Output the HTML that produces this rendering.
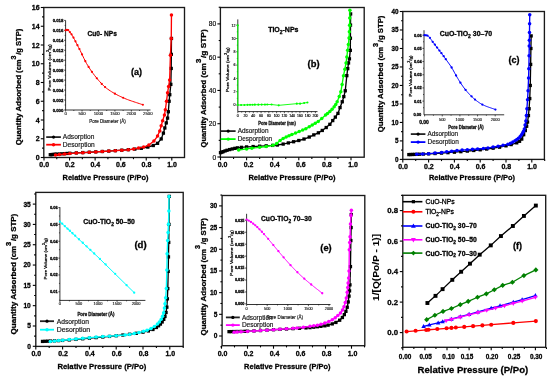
<!DOCTYPE html>
<html><head><meta charset="utf-8"><title>BET isotherms</title>
<style>html,body{margin:0;padding:0;background:#fff;width:550px;height:377px;overflow:hidden}svg{display:block;filter:blur(0.5px)}
text{font-family:"Liberation Sans",Arial,sans-serif}</style></head>
<body>
<svg width="550" height="377" viewBox="0 0 550 377" font-family="Liberation Sans, Arial, sans-serif">
<rect width="550" height="377" fill="#fff"/>
<rect x="43.8" y="7.5" width="140.7" height="150" fill="none" stroke="#1a1a1a" stroke-width="1.35"/>
<line x1="44" y1="157.5" x2="44" y2="160.5" stroke="#000" stroke-width="1.1"/>
<text x="44.2" y="166.8" font-size="7" text-anchor="middle" font-weight="bold" stroke="#000" stroke-width="0.28">0.0</text>
<line x1="69.56" y1="157.5" x2="69.56" y2="160.5" stroke="#000" stroke-width="1.1"/>
<text x="69.76" y="166.8" font-size="7" text-anchor="middle" font-weight="bold" stroke="#000" stroke-width="0.28">0.2</text>
<line x1="95.12" y1="157.5" x2="95.12" y2="160.5" stroke="#000" stroke-width="1.1"/>
<text x="95.32" y="166.8" font-size="7" text-anchor="middle" font-weight="bold" stroke="#000" stroke-width="0.28">0.4</text>
<line x1="120.68" y1="157.5" x2="120.68" y2="160.5" stroke="#000" stroke-width="1.1"/>
<text x="120.88" y="166.8" font-size="7" text-anchor="middle" font-weight="bold" stroke="#000" stroke-width="0.28">0.6</text>
<line x1="146.24" y1="157.5" x2="146.24" y2="160.5" stroke="#000" stroke-width="1.1"/>
<text x="146.44" y="166.8" font-size="7" text-anchor="middle" font-weight="bold" stroke="#000" stroke-width="0.28">0.8</text>
<line x1="171.8" y1="157.5" x2="171.8" y2="160.5" stroke="#000" stroke-width="1.1"/>
<text x="172" y="166.8" font-size="7" text-anchor="middle" font-weight="bold" stroke="#000" stroke-width="0.28">1.0</text>
<line x1="56.78" y1="157.5" x2="56.78" y2="159.2" stroke="#000" stroke-width="1.1"/>
<line x1="82.34" y1="157.5" x2="82.34" y2="159.2" stroke="#000" stroke-width="1.1"/>
<line x1="107.9" y1="157.5" x2="107.9" y2="159.2" stroke="#000" stroke-width="1.1"/>
<line x1="133.46" y1="157.5" x2="133.46" y2="159.2" stroke="#000" stroke-width="1.1"/>
<line x1="159.02" y1="157.5" x2="159.02" y2="159.2" stroke="#000" stroke-width="1.1"/>
<line x1="40.8" y1="157.5" x2="43.8" y2="157.5" stroke="#000" stroke-width="1.1"/>
<text x="39.6" y="160" font-size="7" text-anchor="end" font-weight="bold" stroke="#000" stroke-width="0.28">0</text>
<line x1="40.8" y1="138.75" x2="43.8" y2="138.75" stroke="#000" stroke-width="1.1"/>
<text x="39.6" y="141.25" font-size="7" text-anchor="end" font-weight="bold" stroke="#000" stroke-width="0.28">2</text>
<line x1="40.8" y1="120" x2="43.8" y2="120" stroke="#000" stroke-width="1.1"/>
<text x="39.6" y="122.5" font-size="7" text-anchor="end" font-weight="bold" stroke="#000" stroke-width="0.28">4</text>
<line x1="40.8" y1="101.25" x2="43.8" y2="101.25" stroke="#000" stroke-width="1.1"/>
<text x="39.6" y="103.75" font-size="7" text-anchor="end" font-weight="bold" stroke="#000" stroke-width="0.28">6</text>
<line x1="40.8" y1="82.5" x2="43.8" y2="82.5" stroke="#000" stroke-width="1.1"/>
<text x="39.6" y="85" font-size="7" text-anchor="end" font-weight="bold" stroke="#000" stroke-width="0.28">8</text>
<line x1="40.8" y1="63.75" x2="43.8" y2="63.75" stroke="#000" stroke-width="1.1"/>
<text x="39.6" y="66.25" font-size="7" text-anchor="end" font-weight="bold" stroke="#000" stroke-width="0.28">10</text>
<line x1="40.8" y1="45" x2="43.8" y2="45" stroke="#000" stroke-width="1.1"/>
<text x="39.6" y="47.5" font-size="7" text-anchor="end" font-weight="bold" stroke="#000" stroke-width="0.28">12</text>
<line x1="40.8" y1="26.25" x2="43.8" y2="26.25" stroke="#000" stroke-width="1.1"/>
<text x="39.6" y="28.75" font-size="7" text-anchor="end" font-weight="bold" stroke="#000" stroke-width="0.28">14</text>
<line x1="40.8" y1="7.5" x2="43.8" y2="7.5" stroke="#000" stroke-width="1.1"/>
<text x="39.6" y="10" font-size="7" text-anchor="end" font-weight="bold" stroke="#000" stroke-width="0.28">16</text>
<line x1="42.1" y1="148.12" x2="43.8" y2="148.12" stroke="#000" stroke-width="1.1"/>
<line x1="42.1" y1="129.38" x2="43.8" y2="129.38" stroke="#000" stroke-width="1.1"/>
<line x1="42.1" y1="110.62" x2="43.8" y2="110.62" stroke="#000" stroke-width="1.1"/>
<line x1="42.1" y1="91.88" x2="43.8" y2="91.88" stroke="#000" stroke-width="1.1"/>
<line x1="42.1" y1="73.12" x2="43.8" y2="73.12" stroke="#000" stroke-width="1.1"/>
<line x1="42.1" y1="54.38" x2="43.8" y2="54.38" stroke="#000" stroke-width="1.1"/>
<line x1="42.1" y1="35.62" x2="43.8" y2="35.62" stroke="#000" stroke-width="1.1"/>
<line x1="42.1" y1="16.88" x2="43.8" y2="16.88" stroke="#000" stroke-width="1.1"/>
<text x="21.4" y="110.1" font-size="7.4" text-anchor="middle" font-weight="bold" stroke="#000" stroke-width="0.28" transform="rotate(-90 21.4 110.1)" textLength="70.4" lengthAdjust="spacingAndGlyphs">Quantity Adsorbed</text>
<text x="21.4" y="50.85" font-size="7.4" text-anchor="middle" font-weight="bold" stroke="#000" stroke-width="0.28" transform="rotate(-90 21.4 50.85)" textLength="44.1" lengthAdjust="spacingAndGlyphs">(cm<tspan font-size="7.0" dy="-5.33">3</tspan><tspan dy="5.33" dx="0.6">/g STP)</tspan></text>
<text x="105.6" y="180.3" font-size="7.7" text-anchor="middle" font-weight="bold" stroke="#000" stroke-width="0.28" textLength="86" lengthAdjust="spacingAndGlyphs">Relative Pressure (P/Po)</text>
<line x1="65.6" y1="20.4" x2="65.6" y2="110" stroke="#000" stroke-width="0.8"/>
<line x1="65.6" y1="110" x2="150.5" y2="110" stroke="#000" stroke-width="0.8"/>
<line x1="64" y1="110" x2="65.6" y2="110" stroke="#000" stroke-width="0.64"/>
<text x="63.4" y="111.55" font-size="4.3" text-anchor="end" font-weight="bold" stroke="#000" stroke-width="0.28">0.000</text>
<line x1="64" y1="100.04" x2="65.6" y2="100.04" stroke="#000" stroke-width="0.64"/>
<text x="63.4" y="101.59" font-size="4.3" text-anchor="end" font-weight="bold" stroke="#000" stroke-width="0.28">0.002</text>
<line x1="64" y1="90.09" x2="65.6" y2="90.09" stroke="#000" stroke-width="0.64"/>
<text x="63.4" y="91.64" font-size="4.3" text-anchor="end" font-weight="bold" stroke="#000" stroke-width="0.28">0.004</text>
<line x1="64" y1="80.13" x2="65.6" y2="80.13" stroke="#000" stroke-width="0.64"/>
<text x="63.4" y="81.68" font-size="4.3" text-anchor="end" font-weight="bold" stroke="#000" stroke-width="0.28">0.006</text>
<line x1="64" y1="70.18" x2="65.6" y2="70.18" stroke="#000" stroke-width="0.64"/>
<text x="63.4" y="71.73" font-size="4.3" text-anchor="end" font-weight="bold" stroke="#000" stroke-width="0.28">0.008</text>
<line x1="64" y1="60.22" x2="65.6" y2="60.22" stroke="#000" stroke-width="0.64"/>
<text x="63.4" y="61.77" font-size="4.3" text-anchor="end" font-weight="bold" stroke="#000" stroke-width="0.28">0.010</text>
<line x1="64" y1="50.27" x2="65.6" y2="50.27" stroke="#000" stroke-width="0.64"/>
<text x="63.4" y="51.81" font-size="4.3" text-anchor="end" font-weight="bold" stroke="#000" stroke-width="0.28">0.012</text>
<line x1="64" y1="40.31" x2="65.6" y2="40.31" stroke="#000" stroke-width="0.64"/>
<text x="63.4" y="41.86" font-size="4.3" text-anchor="end" font-weight="bold" stroke="#000" stroke-width="0.28">0.014</text>
<line x1="64" y1="30.36" x2="65.6" y2="30.36" stroke="#000" stroke-width="0.64"/>
<text x="63.4" y="31.9" font-size="4.3" text-anchor="end" font-weight="bold" stroke="#000" stroke-width="0.28">0.016</text>
<line x1="64" y1="20.4" x2="65.6" y2="20.4" stroke="#000" stroke-width="0.64"/>
<text x="63.4" y="21.95" font-size="4.3" text-anchor="end" font-weight="bold" stroke="#000" stroke-width="0.28">0.018</text>
<line x1="64.64" y1="105.02" x2="65.6" y2="105.02" stroke="#000" stroke-width="0.64"/>
<line x1="64.64" y1="95.07" x2="65.6" y2="95.07" stroke="#000" stroke-width="0.64"/>
<line x1="64.64" y1="85.11" x2="65.6" y2="85.11" stroke="#000" stroke-width="0.64"/>
<line x1="64.64" y1="75.16" x2="65.6" y2="75.16" stroke="#000" stroke-width="0.64"/>
<line x1="64.64" y1="65.2" x2="65.6" y2="65.2" stroke="#000" stroke-width="0.64"/>
<line x1="64.64" y1="55.24" x2="65.6" y2="55.24" stroke="#000" stroke-width="0.64"/>
<line x1="64.64" y1="45.29" x2="65.6" y2="45.29" stroke="#000" stroke-width="0.64"/>
<line x1="64.64" y1="35.33" x2="65.6" y2="35.33" stroke="#000" stroke-width="0.64"/>
<line x1="64.64" y1="25.38" x2="65.6" y2="25.38" stroke="#000" stroke-width="0.64"/>
<line x1="65.6" y1="110" x2="65.6" y2="111.6" stroke="#000" stroke-width="0.64"/>
<text x="65.6" y="115.25" font-size="4.3" text-anchor="middle" stroke="#222" stroke-width="0.15" fill="#222">0</text>
<line x1="82.04" y1="110" x2="82.04" y2="111.6" stroke="#000" stroke-width="0.64"/>
<text x="82.04" y="115.25" font-size="4.3" text-anchor="middle" stroke="#222" stroke-width="0.15" fill="#222">500</text>
<line x1="98.48" y1="110" x2="98.48" y2="111.6" stroke="#000" stroke-width="0.64"/>
<text x="98.48" y="115.25" font-size="4.3" text-anchor="middle" stroke="#222" stroke-width="0.15" fill="#222">1000</text>
<line x1="114.92" y1="110" x2="114.92" y2="111.6" stroke="#000" stroke-width="0.64"/>
<text x="114.92" y="115.25" font-size="4.3" text-anchor="middle" stroke="#222" stroke-width="0.15" fill="#222">1500</text>
<line x1="131.36" y1="110" x2="131.36" y2="111.6" stroke="#000" stroke-width="0.64"/>
<text x="131.36" y="115.25" font-size="4.3" text-anchor="middle" stroke="#222" stroke-width="0.15" fill="#222">2000</text>
<line x1="147.8" y1="110" x2="147.8" y2="111.6" stroke="#000" stroke-width="0.64"/>
<text x="147.8" y="115.25" font-size="4.3" text-anchor="middle" stroke="#222" stroke-width="0.15" fill="#222">2500</text>
<line x1="73.82" y1="110" x2="73.82" y2="110.96" stroke="#000" stroke-width="0.64"/>
<line x1="90.26" y1="110" x2="90.26" y2="110.96" stroke="#000" stroke-width="0.64"/>
<line x1="106.7" y1="110" x2="106.7" y2="110.96" stroke="#000" stroke-width="0.64"/>
<line x1="123.14" y1="110" x2="123.14" y2="110.96" stroke="#000" stroke-width="0.64"/>
<line x1="139.58" y1="110" x2="139.58" y2="110.96" stroke="#000" stroke-width="0.64"/>
<text x="50.8" y="67.5" font-size="4.4" text-anchor="middle" transform="rotate(-90 50.8 67.5)" textLength="46.5" lengthAdjust="spacingAndGlyphs" stroke="#000" stroke-width="0.22">Pore Volume (cm<tspan font-size="3" dy="-1.5">3</tspan><tspan dy="1.5">/g)</tspan></text>
<text x="107.5" y="122.6" font-size="4.6" text-anchor="middle" stroke="#111" stroke-width="0.15" fill="#111" textLength="36.5" lengthAdjust="spacingAndGlyphs">Pore Diameter (Å)</text>
<polyline points="65.6,30.36 66.59,30.04 67.57,29.86 68.56,30.46 69.55,31.65 70.53,32.87 71.52,34.29 72.5,35.89 73.49,37.62 74.48,39.46 75.46,41.36 76.45,43.29 77.44,45.21 78.42,47.1 78.75,47.71 80.07,50.3 81.38,53.03 82.7,55.8 84.01,58.55 85.33,61.19 86.64,63.63 87.96,65.83 89.27,67.91 90.59,69.91 91.9,71.81 93.22,73.64 94.53,75.39 95.85,77.06 97.16,78.67 98.48,80.22 99.8,81.73 101.11,83.2 102.43,84.59 103.74,85.9 105.06,87.09 106.37,88.15 107.69,89.11 109,90.04 110.32,90.92 111.63,91.75 112.95,92.55 114.26,93.32 115.58,94.05 116.89,94.75 118.21,95.43 119.52,96.08 120.84,96.7 122.15,97.31 123.47,97.89 124.78,98.46 126.1,99 127.41,99.52 128.73,100.01 130.04,100.48 131.36,100.94 132.68,101.39 133.99,101.82 135.31,102.26 136.62,102.68 137.94,103.11 139.25,103.54 140.57,103.98 141.88,104.43" fill="none" stroke="#f00" stroke-width="1" stroke-linejoin="round"/>
<circle cx="65.6" cy="30.36" r="1.1" fill="#f00"/>
<circle cx="66.92" cy="29.95" r="1.1" fill="#f00"/>
<circle cx="68.23" cy="30.15" r="1.1" fill="#f00"/>
<circle cx="69.87" cy="32.04" r="1.1" fill="#f00"/>
<circle cx="71.52" cy="34.29" r="1.1" fill="#f00"/>
<circle cx="73.49" cy="37.62" r="1.1" fill="#f00"/>
<circle cx="75.46" cy="41.36" r="1.1" fill="#f00"/>
<circle cx="77.44" cy="45.21" r="1.1" fill="#f00"/>
<circle cx="79.41" cy="48.98" r="1.1" fill="#f00"/>
<circle cx="82.04" cy="54.41" r="1.1" fill="#f00"/>
<circle cx="85.33" cy="61.19" r="1.1" fill="#f00"/>
<circle cx="88.62" cy="66.88" r="1.1" fill="#f00"/>
<circle cx="91.9" cy="71.81" r="1.1" fill="#f00"/>
<circle cx="96.84" cy="78.27" r="1.1" fill="#f00"/>
<circle cx="101.77" cy="83.91" r="1.1" fill="#f00"/>
<circle cx="105.06" cy="87.09" r="1.1" fill="#f00"/>
<circle cx="114.92" cy="93.69" r="1.1" fill="#f00"/>
<circle cx="123.14" cy="97.75" r="1.1" fill="#f00"/>
<circle cx="142.87" cy="104.77" r="1.1" fill="#f00"/>
<text x="102.2" y="35.9" font-size="7.4" text-anchor="middle" font-weight="bold" stroke="#000" stroke-width="0.28" textLength="29.5" lengthAdjust="spacingAndGlyphs">Cu0- NPs</text>
<text x="136.5" y="74.8" font-size="9" text-anchor="middle" font-weight="bold" stroke="#000" stroke-width="0.28">(a)</text>
<line x1="46.2" y1="137.1" x2="60.9" y2="137.1" stroke="#222" stroke-width="1.8"/>
<circle cx="53.55" cy="137.1" r="1.6" fill="#000"/>
<line x1="46.2" y1="144.7" x2="60.9" y2="144.7" stroke="#f00" stroke-width="1.8"/>
<circle cx="53.55" cy="144.7" r="1.7" fill="#f00"/>
<text x="62.8" y="139.4" font-size="6.6" text-anchor="start" stroke="#111" stroke-width="0.15" fill="#111" textLength="31.5" lengthAdjust="spacingAndGlyphs">Adsorption</text>
<text x="62.8" y="147" font-size="6.6" text-anchor="start" stroke="#111" stroke-width="0.15" fill="#111" textLength="32" lengthAdjust="spacingAndGlyphs">Desorption</text>
<polyline points="50.3,154.69 51.6,154.59 52.9,154.5 54.2,154.4 55.5,154.3 56.8,154.2 59.4,154.01 62,153.82 64.6,153.63 67.2,153.45 69.8,153.28 76.3,152.91 82.8,152.57 89.3,152.23 95.8,151.88 102.3,151.49 108.8,151.09 115.3,150.67 121.8,150.19 128.3,149.68 134.8,149.09 141.3,148.31 147.8,147.08 153.26,145.5 157.55,143.34 161.19,138.94 163.4,133.12 164.83,127.97 166.26,122.91 167.56,118.12 168.34,111.75 169.12,101.25 169.77,94.69 170.81,84.38 171.2,68.44 171.33,54.38 171.46,38.44" fill="none" stroke="#000" stroke-width="1.35" stroke-linejoin="round"/>
<rect x="48.65" y="153.04" width="3.3" height="3.3" fill="#000"/>
<rect x="49.95" y="152.94" width="3.3" height="3.3" fill="#000"/>
<rect x="51.25" y="152.85" width="3.3" height="3.3" fill="#000"/>
<rect x="52.55" y="152.75" width="3.3" height="3.3" fill="#000"/>
<rect x="53.85" y="152.65" width="3.3" height="3.3" fill="#000"/>
<rect x="55.15" y="152.55" width="3.3" height="3.3" fill="#000"/>
<rect x="57.75" y="152.36" width="3.3" height="3.3" fill="#000"/>
<rect x="60.35" y="152.17" width="3.3" height="3.3" fill="#000"/>
<rect x="62.95" y="151.98" width="3.3" height="3.3" fill="#000"/>
<rect x="65.55" y="151.8" width="3.3" height="3.3" fill="#000"/>
<rect x="68.15" y="151.63" width="3.3" height="3.3" fill="#000"/>
<rect x="74.65" y="151.26" width="3.3" height="3.3" fill="#000"/>
<rect x="81.15" y="150.92" width="3.3" height="3.3" fill="#000"/>
<rect x="87.65" y="150.58" width="3.3" height="3.3" fill="#000"/>
<rect x="94.15" y="150.22" width="3.3" height="3.3" fill="#000"/>
<rect x="100.65" y="149.84" width="3.3" height="3.3" fill="#000"/>
<rect x="107.15" y="149.44" width="3.3" height="3.3" fill="#000"/>
<rect x="113.65" y="149.02" width="3.3" height="3.3" fill="#000"/>
<rect x="120.15" y="148.54" width="3.3" height="3.3" fill="#000"/>
<rect x="126.65" y="148.03" width="3.3" height="3.3" fill="#000"/>
<rect x="133.15" y="147.44" width="3.3" height="3.3" fill="#000"/>
<rect x="139.65" y="146.66" width="3.3" height="3.3" fill="#000"/>
<rect x="146.15" y="145.43" width="3.3" height="3.3" fill="#000"/>
<rect x="151.61" y="143.85" width="3.3" height="3.3" fill="#000"/>
<rect x="155.9" y="141.69" width="3.3" height="3.3" fill="#000"/>
<rect x="159.54" y="137.29" width="3.3" height="3.3" fill="#000"/>
<rect x="161.75" y="131.47" width="3.3" height="3.3" fill="#000"/>
<rect x="163.18" y="126.32" width="3.3" height="3.3" fill="#000"/>
<rect x="164.61" y="121.26" width="3.3" height="3.3" fill="#000"/>
<rect x="165.91" y="116.47" width="3.3" height="3.3" fill="#000"/>
<rect x="166.69" y="110.1" width="3.3" height="3.3" fill="#000"/>
<rect x="167.47" y="99.6" width="3.3" height="3.3" fill="#000"/>
<rect x="168.12" y="93.04" width="3.3" height="3.3" fill="#000"/>
<rect x="169.16" y="82.72" width="3.3" height="3.3" fill="#000"/>
<rect x="169.55" y="66.79" width="3.3" height="3.3" fill="#000"/>
<rect x="169.68" y="52.73" width="3.3" height="3.3" fill="#000"/>
<rect x="169.81" y="36.79" width="3.3" height="3.3" fill="#000"/>
<polyline points="55.5,154.97 59.4,154.57 64.6,154.03 69.8,153.56 76.3,153.09 82.8,152.68 89.3,152.3 95.8,151.91 102.3,151.5 108.8,151.08 115.3,150.66 121.8,150.27 128.3,149.84 133.5,149.1 138.57,148.12 143.64,147.09 148.84,145.03 153.91,141.09 157.55,136.03 159.76,130.88 161.19,125.81 162.62,120.66 164.44,115.03 165.35,109.69 166.52,101.25 167.56,92.81 168.6,86.44 169.64,79.97 170.42,55.31 171.26,38.44 171.46,15" fill="none" stroke="#f00" stroke-width="1.35" stroke-linejoin="round"/>
<circle cx="55.5" cy="154.97" r="1.75" fill="#f00"/>
<circle cx="59.4" cy="154.57" r="1.75" fill="#f00"/>
<circle cx="64.6" cy="154.03" r="1.75" fill="#f00"/>
<circle cx="69.8" cy="153.56" r="1.75" fill="#f00"/>
<circle cx="76.3" cy="153.09" r="1.75" fill="#f00"/>
<circle cx="82.8" cy="152.68" r="1.75" fill="#f00"/>
<circle cx="89.3" cy="152.3" r="1.75" fill="#f00"/>
<circle cx="95.8" cy="151.91" r="1.75" fill="#f00"/>
<circle cx="102.3" cy="151.5" r="1.75" fill="#f00"/>
<circle cx="108.8" cy="151.08" r="1.75" fill="#f00"/>
<circle cx="115.3" cy="150.66" r="1.75" fill="#f00"/>
<circle cx="121.8" cy="150.27" r="1.75" fill="#f00"/>
<circle cx="128.3" cy="149.84" r="1.75" fill="#f00"/>
<circle cx="133.5" cy="149.1" r="1.75" fill="#f00"/>
<circle cx="138.57" cy="148.12" r="1.75" fill="#f00"/>
<circle cx="143.64" cy="147.09" r="1.75" fill="#f00"/>
<circle cx="148.84" cy="145.03" r="1.75" fill="#f00"/>
<circle cx="153.91" cy="141.09" r="1.75" fill="#f00"/>
<circle cx="157.55" cy="136.03" r="1.75" fill="#f00"/>
<circle cx="159.76" cy="130.88" r="1.75" fill="#f00"/>
<circle cx="161.19" cy="125.81" r="1.75" fill="#f00"/>
<circle cx="162.62" cy="120.66" r="1.75" fill="#f00"/>
<circle cx="164.44" cy="115.03" r="1.75" fill="#f00"/>
<circle cx="165.35" cy="109.69" r="1.75" fill="#f00"/>
<circle cx="166.52" cy="101.25" r="1.75" fill="#f00"/>
<circle cx="167.56" cy="92.81" r="1.75" fill="#f00"/>
<circle cx="168.6" cy="86.44" r="1.75" fill="#f00"/>
<circle cx="169.64" cy="79.97" r="1.75" fill="#f00"/>
<circle cx="170.42" cy="55.31" r="1.75" fill="#f00"/>
<circle cx="171.26" cy="38.44" r="1.75" fill="#f00"/>
<circle cx="171.46" cy="15" r="1.75" fill="#f00"/>
<rect x="220.4" y="7.5" width="143.8" height="149.7" fill="none" stroke="#1a1a1a" stroke-width="1.35"/>
<line x1="220.5" y1="157.2" x2="220.5" y2="160.2" stroke="#000" stroke-width="1.1"/>
<text x="222.5" y="166.7" font-size="7" text-anchor="middle" font-weight="bold" stroke="#000" stroke-width="0.28">0.0</text>
<line x1="246.6" y1="157.2" x2="246.6" y2="160.2" stroke="#000" stroke-width="1.1"/>
<text x="248.6" y="166.7" font-size="7" text-anchor="middle" font-weight="bold" stroke="#000" stroke-width="0.28">0.2</text>
<line x1="272.7" y1="157.2" x2="272.7" y2="160.2" stroke="#000" stroke-width="1.1"/>
<text x="274.7" y="166.7" font-size="7" text-anchor="middle" font-weight="bold" stroke="#000" stroke-width="0.28">0.4</text>
<line x1="298.8" y1="157.2" x2="298.8" y2="160.2" stroke="#000" stroke-width="1.1"/>
<text x="300.8" y="166.7" font-size="7" text-anchor="middle" font-weight="bold" stroke="#000" stroke-width="0.28">0.6</text>
<line x1="324.9" y1="157.2" x2="324.9" y2="160.2" stroke="#000" stroke-width="1.1"/>
<text x="326.9" y="166.7" font-size="7" text-anchor="middle" font-weight="bold" stroke="#000" stroke-width="0.28">0.8</text>
<line x1="351" y1="157.2" x2="351" y2="160.2" stroke="#000" stroke-width="1.1"/>
<text x="353" y="166.7" font-size="7" text-anchor="middle" font-weight="bold" stroke="#000" stroke-width="0.28">1.0</text>
<line x1="233.55" y1="157.2" x2="233.55" y2="158.9" stroke="#000" stroke-width="1.1"/>
<line x1="259.65" y1="157.2" x2="259.65" y2="158.9" stroke="#000" stroke-width="1.1"/>
<line x1="285.75" y1="157.2" x2="285.75" y2="158.9" stroke="#000" stroke-width="1.1"/>
<line x1="311.85" y1="157.2" x2="311.85" y2="158.9" stroke="#000" stroke-width="1.1"/>
<line x1="337.95" y1="157.2" x2="337.95" y2="158.9" stroke="#000" stroke-width="1.1"/>
<line x1="217.4" y1="157" x2="220.4" y2="157" stroke="#000" stroke-width="1.1"/>
<text x="216.2" y="159.5" font-size="6.6" text-anchor="end" stroke="#000" stroke-width="0.15">0</text>
<line x1="217.4" y1="123.72" x2="220.4" y2="123.72" stroke="#000" stroke-width="1.1"/>
<text x="216.2" y="126.22" font-size="6.6" text-anchor="end" stroke="#000" stroke-width="0.15">20</text>
<line x1="217.4" y1="90.45" x2="220.4" y2="90.45" stroke="#000" stroke-width="1.1"/>
<text x="216.2" y="92.95" font-size="6.6" text-anchor="end" stroke="#000" stroke-width="0.15">40</text>
<line x1="217.4" y1="57.17" x2="220.4" y2="57.17" stroke="#000" stroke-width="1.1"/>
<text x="216.2" y="59.67" font-size="6.6" text-anchor="end" stroke="#000" stroke-width="0.15">60</text>
<line x1="217.4" y1="23.9" x2="220.4" y2="23.9" stroke="#000" stroke-width="1.1"/>
<text x="216.2" y="26.4" font-size="6.6" text-anchor="end" stroke="#000" stroke-width="0.15">80</text>
<line x1="218.7" y1="140.36" x2="220.4" y2="140.36" stroke="#000" stroke-width="1.1"/>
<line x1="218.7" y1="107.09" x2="220.4" y2="107.09" stroke="#000" stroke-width="1.1"/>
<line x1="218.7" y1="73.81" x2="220.4" y2="73.81" stroke="#000" stroke-width="1.1"/>
<line x1="218.7" y1="40.54" x2="220.4" y2="40.54" stroke="#000" stroke-width="1.1"/>
<line x1="218.7" y1="7.26" x2="220.4" y2="7.26" stroke="#000" stroke-width="1.1"/>
<text x="205.9" y="113.6" font-size="7.4" text-anchor="middle" font-weight="bold" stroke="#000" stroke-width="0.28" transform="rotate(-90 205.9 113.6)" textLength="67.6" lengthAdjust="spacingAndGlyphs">Quantity Adsorbed</text>
<text x="205.9" y="53.55" font-size="7.4" text-anchor="middle" font-weight="bold" stroke="#000" stroke-width="0.28" transform="rotate(-90 205.9 53.55)" textLength="48.5" lengthAdjust="spacingAndGlyphs">(cm<tspan font-size="7.0" dy="-5.33">3</tspan><tspan dy="5.33" dx="0.6">/g STP)</tspan></text>
<text x="292" y="180.2" font-size="7.7" text-anchor="middle" font-weight="bold" stroke="#000" stroke-width="0.28" textLength="87.2" lengthAdjust="spacingAndGlyphs">Relative Pressure (P/Po)</text>
<line x1="237.8" y1="19.4" x2="237.8" y2="111.6" stroke="#000" stroke-width="0.8"/>
<line x1="237.8" y1="111.6" x2="317.5" y2="111.6" stroke="#000" stroke-width="0.8"/>
<line x1="236.2" y1="105" x2="237.8" y2="105" stroke="#000" stroke-width="0.64"/>
<text x="235.6" y="106.3" font-size="3.6" text-anchor="end" stroke="#000" stroke-width="0.15">0</text>
<line x1="236.2" y1="91.7" x2="237.8" y2="91.7" stroke="#000" stroke-width="0.64"/>
<text x="235.6" y="93" font-size="3.6" text-anchor="end" stroke="#000" stroke-width="0.15">2</text>
<line x1="236.2" y1="78.4" x2="237.8" y2="78.4" stroke="#000" stroke-width="0.64"/>
<text x="235.6" y="79.7" font-size="3.6" text-anchor="end" stroke="#000" stroke-width="0.15">4</text>
<line x1="236.2" y1="65.1" x2="237.8" y2="65.1" stroke="#000" stroke-width="0.64"/>
<text x="235.6" y="66.4" font-size="3.6" text-anchor="end" stroke="#000" stroke-width="0.15">6</text>
<line x1="236.2" y1="51.8" x2="237.8" y2="51.8" stroke="#000" stroke-width="0.64"/>
<text x="235.6" y="53.1" font-size="3.6" text-anchor="end" stroke="#000" stroke-width="0.15">8</text>
<line x1="236.2" y1="38.5" x2="237.8" y2="38.5" stroke="#000" stroke-width="0.64"/>
<text x="235.6" y="39.8" font-size="3.6" text-anchor="end" stroke="#000" stroke-width="0.15">10</text>
<line x1="236.2" y1="25.2" x2="237.8" y2="25.2" stroke="#000" stroke-width="0.64"/>
<text x="235.6" y="26.5" font-size="3.6" text-anchor="end" stroke="#000" stroke-width="0.15">12</text>
<line x1="236.84" y1="98.35" x2="237.8" y2="98.35" stroke="#000" stroke-width="0.64"/>
<line x1="236.84" y1="85.05" x2="237.8" y2="85.05" stroke="#000" stroke-width="0.64"/>
<line x1="236.84" y1="71.75" x2="237.8" y2="71.75" stroke="#000" stroke-width="0.64"/>
<line x1="236.84" y1="58.45" x2="237.8" y2="58.45" stroke="#000" stroke-width="0.64"/>
<line x1="236.84" y1="45.15" x2="237.8" y2="45.15" stroke="#000" stroke-width="0.64"/>
<line x1="236.84" y1="31.85" x2="237.8" y2="31.85" stroke="#000" stroke-width="0.64"/>
<line x1="237.8" y1="111.6" x2="237.8" y2="113.2" stroke="#000" stroke-width="0.64"/>
<text x="237.8" y="117.16" font-size="3.5" text-anchor="middle" stroke="#000" stroke-width="0.15">0</text>
<line x1="245.56" y1="111.6" x2="245.56" y2="113.2" stroke="#000" stroke-width="0.64"/>
<text x="245.56" y="117.16" font-size="3.5" text-anchor="middle" stroke="#000" stroke-width="0.15">20</text>
<line x1="253.32" y1="111.6" x2="253.32" y2="113.2" stroke="#000" stroke-width="0.64"/>
<text x="253.32" y="117.16" font-size="3.5" text-anchor="middle" stroke="#000" stroke-width="0.15">40</text>
<line x1="261.08" y1="111.6" x2="261.08" y2="113.2" stroke="#000" stroke-width="0.64"/>
<text x="261.08" y="117.16" font-size="3.5" text-anchor="middle" stroke="#000" stroke-width="0.15">60</text>
<line x1="268.84" y1="111.6" x2="268.84" y2="113.2" stroke="#000" stroke-width="0.64"/>
<text x="268.84" y="117.16" font-size="3.5" text-anchor="middle" stroke="#000" stroke-width="0.15">80</text>
<line x1="276.6" y1="111.6" x2="276.6" y2="113.2" stroke="#000" stroke-width="0.64"/>
<text x="276.6" y="117.16" font-size="3.5" text-anchor="middle" stroke="#000" stroke-width="0.15">100</text>
<line x1="284.36" y1="111.6" x2="284.36" y2="113.2" stroke="#000" stroke-width="0.64"/>
<text x="284.36" y="117.16" font-size="3.5" text-anchor="middle" stroke="#000" stroke-width="0.15">120</text>
<line x1="292.12" y1="111.6" x2="292.12" y2="113.2" stroke="#000" stroke-width="0.64"/>
<text x="292.12" y="117.16" font-size="3.5" text-anchor="middle" stroke="#000" stroke-width="0.15">140</text>
<line x1="299.88" y1="111.6" x2="299.88" y2="113.2" stroke="#000" stroke-width="0.64"/>
<text x="299.88" y="117.16" font-size="3.5" text-anchor="middle" stroke="#000" stroke-width="0.15">160</text>
<line x1="307.64" y1="111.6" x2="307.64" y2="113.2" stroke="#000" stroke-width="0.64"/>
<text x="307.64" y="117.16" font-size="3.5" text-anchor="middle" stroke="#000" stroke-width="0.15">180</text>
<line x1="315.4" y1="111.6" x2="315.4" y2="113.2" stroke="#000" stroke-width="0.64"/>
<text x="315.4" y="117.16" font-size="3.5" text-anchor="middle" stroke="#000" stroke-width="0.15">200</text>
<line x1="241.68" y1="111.6" x2="241.68" y2="112.56" stroke="#000" stroke-width="0.64"/>
<line x1="249.44" y1="111.6" x2="249.44" y2="112.56" stroke="#000" stroke-width="0.64"/>
<line x1="257.2" y1="111.6" x2="257.2" y2="112.56" stroke="#000" stroke-width="0.64"/>
<line x1="264.96" y1="111.6" x2="264.96" y2="112.56" stroke="#000" stroke-width="0.64"/>
<line x1="272.72" y1="111.6" x2="272.72" y2="112.56" stroke="#000" stroke-width="0.64"/>
<line x1="280.48" y1="111.6" x2="280.48" y2="112.56" stroke="#000" stroke-width="0.64"/>
<line x1="288.24" y1="111.6" x2="288.24" y2="112.56" stroke="#000" stroke-width="0.64"/>
<line x1="296" y1="111.6" x2="296" y2="112.56" stroke="#000" stroke-width="0.64"/>
<line x1="303.76" y1="111.6" x2="303.76" y2="112.56" stroke="#000" stroke-width="0.64"/>
<line x1="311.52" y1="111.6" x2="311.52" y2="112.56" stroke="#000" stroke-width="0.64"/>
<text x="228.6" y="69.8" font-size="4.4" text-anchor="middle" transform="rotate(-90 228.6 69.8)" textLength="45" lengthAdjust="spacingAndGlyphs" stroke="#000" stroke-width="0.22">Pore Volume (cm<tspan font-size="3" dy="-1.5">3</tspan><tspan dy="1.5">/g)</tspan></text>
<text x="277" y="125.3" font-size="4.5" text-anchor="middle" font-weight="bold" stroke="#111" stroke-width="0.28" fill="#111" textLength="37.6" lengthAdjust="spacingAndGlyphs">Pore Diameter (nm)</text>
<polyline points="237.8,25.2 237.8,105" fill="none" stroke="#0f0" stroke-width="1" stroke-linejoin="round"/>
<polyline points="237.8,105 241.1,105 244.4,104.93 247.5,104.87 250.02,104.8 252.54,104.73 254.87,104.67 258.36,104.67 261.66,104.6 264.96,104.6 267.29,104.53 271.56,104.53 278.73,105.33 296.78,103.67 300.07,103.67 304.15,103 307.45,102.54" fill="none" stroke="#0f0" stroke-width="0.9" stroke-linejoin="round"/>
<circle cx="237.8" cy="105" r="1.05" fill="#0f0"/>
<circle cx="241.1" cy="105" r="1.05" fill="#0f0"/>
<circle cx="244.4" cy="104.93" r="1.05" fill="#0f0"/>
<circle cx="247.5" cy="104.87" r="1.05" fill="#0f0"/>
<circle cx="250.02" cy="104.8" r="1.05" fill="#0f0"/>
<circle cx="252.54" cy="104.73" r="1.05" fill="#0f0"/>
<circle cx="254.87" cy="104.67" r="1.05" fill="#0f0"/>
<circle cx="258.36" cy="104.67" r="1.05" fill="#0f0"/>
<circle cx="261.66" cy="104.6" r="1.05" fill="#0f0"/>
<circle cx="264.96" cy="104.6" r="1.05" fill="#0f0"/>
<circle cx="267.29" cy="104.53" r="1.05" fill="#0f0"/>
<circle cx="271.56" cy="104.53" r="1.05" fill="#0f0"/>
<circle cx="278.73" cy="105.33" r="1.05" fill="#0f0"/>
<circle cx="296.78" cy="103.67" r="1.05" fill="#0f0"/>
<circle cx="300.07" cy="103.67" r="1.05" fill="#0f0"/>
<circle cx="304.15" cy="103" r="1.05" fill="#0f0"/>
<circle cx="307.45" cy="102.54" r="1.05" fill="#0f0"/>
<circle cx="237.8" cy="25.2" r="1.05" fill="#0f0"/>
<text x="283.4" y="32" font-size="7.2" text-anchor="middle" font-weight="bold" stroke="#000" stroke-width="0.28" textLength="30.3" lengthAdjust="spacingAndGlyphs">TiO<tspan font-size="5" dy="1.5">2</tspan><tspan dy="-1.5">-NPs</tspan></text>
<text x="313.6" y="67.2" font-size="9.4" text-anchor="middle" font-weight="bold" stroke="#000" stroke-width="0.28">(b)</text>
<line x1="220.8" y1="131.1" x2="235.6" y2="131.1" stroke="#222" stroke-width="1.8"/>
<circle cx="228.2" cy="131.1" r="1.6" fill="#000"/>
<line x1="220.8" y1="139.1" x2="235.6" y2="139.1" stroke="#0f0" stroke-width="1.8"/>
<circle cx="228.2" cy="139.1" r="1.7" fill="#0f0"/>
<text x="237.7" y="133.4" font-size="6.6" text-anchor="start" stroke="#111" stroke-width="0.15" fill="#111" textLength="30.8" lengthAdjust="spacingAndGlyphs">Adsorption</text>
<text x="237.7" y="141.4" font-size="6.6" text-anchor="start" stroke="#111" stroke-width="0.15" fill="#111" textLength="34.4" lengthAdjust="spacingAndGlyphs">Desporption</text>
<polyline points="220.5,152.67 221.81,152.19 223.11,151.68 225.07,150.94 227.03,150.27 229.63,149.57 232.25,148.93 234.85,148.35 237.47,147.86 241.38,147.34 246.6,146.92 253.12,146.55 259.65,146.19 266.18,145.82 272.7,145.41 277.27,145.02 283.14,144.08 288.36,142.91 293.58,141.74 298.8,140.5 304.02,139.03 309.24,137.05 313.81,134.87 318.38,132.82 322.29,130.45 326.21,127.53 329.86,124.31 332.73,120.58 335.34,117.11 337.95,113.41 340.04,107.59 342.26,101.76 343.82,96.61 345.26,90.78 346.82,75.64 347.74,68.61 348.52,63 349.43,58.84 350.3,50.35 350.41,38.21 350.5,25.06 350.61,13.92" fill="none" stroke="#000" stroke-width="1.35" stroke-linejoin="round"/>
<rect x="218.85" y="151.02" width="3.3" height="3.3" fill="#000"/>
<rect x="220.16" y="150.54" width="3.3" height="3.3" fill="#000"/>
<rect x="221.46" y="150.03" width="3.3" height="3.3" fill="#000"/>
<rect x="223.42" y="149.29" width="3.3" height="3.3" fill="#000"/>
<rect x="225.38" y="148.62" width="3.3" height="3.3" fill="#000"/>
<rect x="227.98" y="147.92" width="3.3" height="3.3" fill="#000"/>
<rect x="230.59" y="147.28" width="3.3" height="3.3" fill="#000"/>
<rect x="233.2" y="146.7" width="3.3" height="3.3" fill="#000"/>
<rect x="235.81" y="146.21" width="3.3" height="3.3" fill="#000"/>
<rect x="239.73" y="145.69" width="3.3" height="3.3" fill="#000"/>
<rect x="244.95" y="145.27" width="3.3" height="3.3" fill="#000"/>
<rect x="251.47" y="144.9" width="3.3" height="3.3" fill="#000"/>
<rect x="258" y="144.54" width="3.3" height="3.3" fill="#000"/>
<rect x="264.53" y="144.17" width="3.3" height="3.3" fill="#000"/>
<rect x="271.05" y="143.76" width="3.3" height="3.3" fill="#000"/>
<rect x="275.62" y="143.37" width="3.3" height="3.3" fill="#000"/>
<rect x="281.49" y="142.43" width="3.3" height="3.3" fill="#000"/>
<rect x="286.71" y="141.26" width="3.3" height="3.3" fill="#000"/>
<rect x="291.93" y="140.09" width="3.3" height="3.3" fill="#000"/>
<rect x="297.15" y="138.85" width="3.3" height="3.3" fill="#000"/>
<rect x="302.37" y="137.38" width="3.3" height="3.3" fill="#000"/>
<rect x="307.59" y="135.4" width="3.3" height="3.3" fill="#000"/>
<rect x="312.16" y="133.22" width="3.3" height="3.3" fill="#000"/>
<rect x="316.73" y="131.17" width="3.3" height="3.3" fill="#000"/>
<rect x="320.64" y="128.8" width="3.3" height="3.3" fill="#000"/>
<rect x="324.56" y="125.88" width="3.3" height="3.3" fill="#000"/>
<rect x="328.21" y="122.66" width="3.3" height="3.3" fill="#000"/>
<rect x="331.08" y="118.93" width="3.3" height="3.3" fill="#000"/>
<rect x="333.69" y="115.46" width="3.3" height="3.3" fill="#000"/>
<rect x="336.3" y="111.76" width="3.3" height="3.3" fill="#000"/>
<rect x="338.39" y="105.94" width="3.3" height="3.3" fill="#000"/>
<rect x="340.61" y="100.11" width="3.3" height="3.3" fill="#000"/>
<rect x="342.17" y="94.96" width="3.3" height="3.3" fill="#000"/>
<rect x="343.61" y="89.13" width="3.3" height="3.3" fill="#000"/>
<rect x="345.17" y="73.99" width="3.3" height="3.3" fill="#000"/>
<rect x="346.09" y="66.96" width="3.3" height="3.3" fill="#000"/>
<rect x="346.87" y="61.35" width="3.3" height="3.3" fill="#000"/>
<rect x="347.78" y="57.19" width="3.3" height="3.3" fill="#000"/>
<rect x="348.65" y="48.7" width="3.3" height="3.3" fill="#000"/>
<rect x="348.76" y="36.56" width="3.3" height="3.3" fill="#000"/>
<rect x="348.85" y="23.41" width="3.3" height="3.3" fill="#000"/>
<rect x="348.96" y="12.27" width="3.3" height="3.3" fill="#000"/>
<polyline points="238.64,150.01 246.6,148.88 251.82,148.18 259.65,147.31 266.18,146.52 272.96,145.35 276.62,143.48 280.14,140.4 283.14,138.57 286.14,137.03 289.01,135.74 291.88,134.54 295.54,133.04 299.19,131.54 302.72,130.11 305.85,128.72 309.24,126.85 312.24,125.06 315.24,123.31 318.24,121.4 321.77,118.57 325.55,115.07 327.51,113.52 329.86,111.58 332.08,109.32 334.17,106.75 335.73,104.4 337.17,101.76 339.25,96.61 340.82,91.78 342.13,84.42 343.5,75.64 344.87,69.14 346.04,63 346.82,57.09 347.61,50.35 348.39,44.51 349.04,37.88 349.37,31.82 349.6,25.23 349.76,18.05 349.9,10.26" fill="none" stroke="#0f0" stroke-width="1.35" stroke-linejoin="round"/>
<circle cx="238.64" cy="150.01" r="1.75" fill="#0f0"/>
<circle cx="246.6" cy="148.88" r="1.75" fill="#0f0"/>
<circle cx="251.82" cy="148.18" r="1.75" fill="#0f0"/>
<circle cx="259.65" cy="147.31" r="1.75" fill="#0f0"/>
<circle cx="266.18" cy="146.52" r="1.75" fill="#0f0"/>
<circle cx="272.96" cy="145.35" r="1.75" fill="#0f0"/>
<circle cx="276.62" cy="143.48" r="1.75" fill="#0f0"/>
<circle cx="280.14" cy="140.4" r="1.75" fill="#0f0"/>
<circle cx="283.14" cy="138.57" r="1.75" fill="#0f0"/>
<circle cx="286.14" cy="137.03" r="1.75" fill="#0f0"/>
<circle cx="289.01" cy="135.74" r="1.75" fill="#0f0"/>
<circle cx="291.88" cy="134.54" r="1.75" fill="#0f0"/>
<circle cx="295.54" cy="133.04" r="1.75" fill="#0f0"/>
<circle cx="299.19" cy="131.54" r="1.75" fill="#0f0"/>
<circle cx="302.72" cy="130.11" r="1.75" fill="#0f0"/>
<circle cx="305.85" cy="128.72" r="1.75" fill="#0f0"/>
<circle cx="309.24" cy="126.85" r="1.75" fill="#0f0"/>
<circle cx="312.24" cy="125.06" r="1.75" fill="#0f0"/>
<circle cx="315.24" cy="123.31" r="1.75" fill="#0f0"/>
<circle cx="318.24" cy="121.4" r="1.75" fill="#0f0"/>
<circle cx="321.77" cy="118.57" r="1.75" fill="#0f0"/>
<circle cx="325.55" cy="115.07" r="1.75" fill="#0f0"/>
<circle cx="327.51" cy="113.52" r="1.75" fill="#0f0"/>
<circle cx="329.86" cy="111.58" r="1.75" fill="#0f0"/>
<circle cx="332.08" cy="109.32" r="1.75" fill="#0f0"/>
<circle cx="334.17" cy="106.75" r="1.75" fill="#0f0"/>
<circle cx="335.73" cy="104.4" r="1.75" fill="#0f0"/>
<circle cx="337.17" cy="101.76" r="1.75" fill="#0f0"/>
<circle cx="339.25" cy="96.61" r="1.75" fill="#0f0"/>
<circle cx="340.82" cy="91.78" r="1.75" fill="#0f0"/>
<circle cx="342.13" cy="84.42" r="1.75" fill="#0f0"/>
<circle cx="343.5" cy="75.64" r="1.75" fill="#0f0"/>
<circle cx="344.87" cy="69.14" r="1.75" fill="#0f0"/>
<circle cx="346.04" cy="63" r="1.75" fill="#0f0"/>
<circle cx="346.82" cy="57.09" r="1.75" fill="#0f0"/>
<circle cx="347.61" cy="50.35" r="1.75" fill="#0f0"/>
<circle cx="348.39" cy="44.51" r="1.75" fill="#0f0"/>
<circle cx="349.04" cy="37.88" r="1.75" fill="#0f0"/>
<circle cx="349.37" cy="31.82" r="1.75" fill="#0f0"/>
<circle cx="349.6" cy="25.23" r="1.75" fill="#0f0"/>
<circle cx="349.76" cy="18.05" r="1.75" fill="#0f0"/>
<circle cx="349.9" cy="10.26" r="1.75" fill="#0f0"/>
<rect x="402.8" y="11.5" width="141.6" height="147.9" fill="none" stroke="#1a1a1a" stroke-width="1.35"/>
<line x1="402.8" y1="159.4" x2="402.8" y2="162.4" stroke="#000" stroke-width="1.1"/>
<text x="403.1" y="169.2" font-size="7" text-anchor="middle" font-weight="bold" stroke="#000" stroke-width="0.28">0.0</text>
<line x1="428.6" y1="159.4" x2="428.6" y2="162.4" stroke="#000" stroke-width="1.1"/>
<text x="428.9" y="169.2" font-size="7" text-anchor="middle" font-weight="bold" stroke="#000" stroke-width="0.28">0.2</text>
<line x1="454.4" y1="159.4" x2="454.4" y2="162.4" stroke="#000" stroke-width="1.1"/>
<text x="454.7" y="169.2" font-size="7" text-anchor="middle" font-weight="bold" stroke="#000" stroke-width="0.28">0.4</text>
<line x1="480.2" y1="159.4" x2="480.2" y2="162.4" stroke="#000" stroke-width="1.1"/>
<text x="480.5" y="169.2" font-size="7" text-anchor="middle" font-weight="bold" stroke="#000" stroke-width="0.28">0.6</text>
<line x1="506" y1="159.4" x2="506" y2="162.4" stroke="#000" stroke-width="1.1"/>
<text x="506.3" y="169.2" font-size="7" text-anchor="middle" font-weight="bold" stroke="#000" stroke-width="0.28">0.8</text>
<line x1="531.8" y1="159.4" x2="531.8" y2="162.4" stroke="#000" stroke-width="1.1"/>
<text x="532.1" y="169.2" font-size="7" text-anchor="middle" font-weight="bold" stroke="#000" stroke-width="0.28">1.0</text>
<line x1="415.7" y1="159.4" x2="415.7" y2="161.1" stroke="#000" stroke-width="1.1"/>
<line x1="441.5" y1="159.4" x2="441.5" y2="161.1" stroke="#000" stroke-width="1.1"/>
<line x1="467.3" y1="159.4" x2="467.3" y2="161.1" stroke="#000" stroke-width="1.1"/>
<line x1="493.1" y1="159.4" x2="493.1" y2="161.1" stroke="#000" stroke-width="1.1"/>
<line x1="518.9" y1="159.4" x2="518.9" y2="161.1" stroke="#000" stroke-width="1.1"/>
<line x1="544.7" y1="159.4" x2="544.7" y2="161.1" stroke="#000" stroke-width="1.1"/>
<line x1="399.8" y1="159.4" x2="402.8" y2="159.4" stroke="#000" stroke-width="1.1"/>
<text x="398.4" y="161.7" font-size="6.3" text-anchor="end" font-weight="bold" stroke="#000" stroke-width="0.28">0</text>
<line x1="399.8" y1="140.91" x2="402.8" y2="140.91" stroke="#000" stroke-width="1.1"/>
<text x="398.4" y="143.21" font-size="6.3" text-anchor="end" font-weight="bold" stroke="#000" stroke-width="0.28">5</text>
<line x1="399.8" y1="122.43" x2="402.8" y2="122.43" stroke="#000" stroke-width="1.1"/>
<text x="398.4" y="124.73" font-size="6.3" text-anchor="end" font-weight="bold" stroke="#000" stroke-width="0.28">10</text>
<line x1="399.8" y1="103.94" x2="402.8" y2="103.94" stroke="#000" stroke-width="1.1"/>
<text x="398.4" y="106.24" font-size="6.3" text-anchor="end" font-weight="bold" stroke="#000" stroke-width="0.28">15</text>
<line x1="399.8" y1="85.45" x2="402.8" y2="85.45" stroke="#000" stroke-width="1.1"/>
<text x="398.4" y="87.75" font-size="6.3" text-anchor="end" font-weight="bold" stroke="#000" stroke-width="0.28">20</text>
<line x1="399.8" y1="66.96" x2="402.8" y2="66.96" stroke="#000" stroke-width="1.1"/>
<text x="398.4" y="69.26" font-size="6.3" text-anchor="end" font-weight="bold" stroke="#000" stroke-width="0.28">25</text>
<line x1="399.8" y1="48.48" x2="402.8" y2="48.48" stroke="#000" stroke-width="1.1"/>
<text x="398.4" y="50.78" font-size="6.3" text-anchor="end" font-weight="bold" stroke="#000" stroke-width="0.28">30</text>
<line x1="399.8" y1="29.99" x2="402.8" y2="29.99" stroke="#000" stroke-width="1.1"/>
<text x="398.4" y="32.29" font-size="6.3" text-anchor="end" font-weight="bold" stroke="#000" stroke-width="0.28">35</text>
<line x1="399.8" y1="11.5" x2="402.8" y2="11.5" stroke="#000" stroke-width="1.1"/>
<text x="398.4" y="13.8" font-size="6.3" text-anchor="end" font-weight="bold" stroke="#000" stroke-width="0.28">40</text>
<line x1="401.1" y1="150.16" x2="402.8" y2="150.16" stroke="#000" stroke-width="1.1"/>
<line x1="401.1" y1="131.67" x2="402.8" y2="131.67" stroke="#000" stroke-width="1.1"/>
<line x1="401.1" y1="113.18" x2="402.8" y2="113.18" stroke="#000" stroke-width="1.1"/>
<line x1="401.1" y1="94.69" x2="402.8" y2="94.69" stroke="#000" stroke-width="1.1"/>
<line x1="401.1" y1="76.21" x2="402.8" y2="76.21" stroke="#000" stroke-width="1.1"/>
<line x1="401.1" y1="57.72" x2="402.8" y2="57.72" stroke="#000" stroke-width="1.1"/>
<line x1="401.1" y1="39.23" x2="402.8" y2="39.23" stroke="#000" stroke-width="1.1"/>
<line x1="401.1" y1="20.74" x2="402.8" y2="20.74" stroke="#000" stroke-width="1.1"/>
<text x="383.5" y="97.45" font-size="7.4" text-anchor="middle" font-weight="bold" stroke="#000" stroke-width="0.28" transform="rotate(-90 383.5 97.45)" textLength="69.7" lengthAdjust="spacingAndGlyphs">Quantity Adsorbed</text>
<text x="383.5" y="38.1" font-size="7.4" text-anchor="middle" font-weight="bold" stroke="#000" stroke-width="0.28" transform="rotate(-90 383.5 38.1)" textLength="45" lengthAdjust="spacingAndGlyphs">(cm<tspan font-size="7.0" dy="-5.33">3</tspan><tspan dy="5.33" dx="0.6">/g STP)</tspan></text>
<text x="472" y="180.4" font-size="7.7" text-anchor="middle" font-weight="bold" stroke="#000" stroke-width="0.28" textLength="86" lengthAdjust="spacingAndGlyphs">Relative Pressure (P/Po)</text>
<line x1="424" y1="30.2" x2="424" y2="114.8" stroke="#000" stroke-width="0.8"/>
<line x1="424" y1="114.8" x2="504.2" y2="114.8" stroke="#000" stroke-width="0.8"/>
<line x1="422.4" y1="101.12" x2="424" y2="101.12" stroke="#000" stroke-width="0.64"/>
<text x="421.8" y="102.56" font-size="4" text-anchor="end" font-weight="bold" stroke="#000" stroke-width="0.28">0.01</text>
<line x1="422.4" y1="87.93" x2="424" y2="87.93" stroke="#000" stroke-width="0.64"/>
<text x="421.8" y="89.37" font-size="4" text-anchor="end" font-weight="bold" stroke="#000" stroke-width="0.28">0.02</text>
<line x1="422.4" y1="74.75" x2="424" y2="74.75" stroke="#000" stroke-width="0.64"/>
<text x="421.8" y="76.19" font-size="4" text-anchor="end" font-weight="bold" stroke="#000" stroke-width="0.28">0.03</text>
<line x1="422.4" y1="61.57" x2="424" y2="61.57" stroke="#000" stroke-width="0.64"/>
<text x="421.8" y="63.01" font-size="4" text-anchor="end" font-weight="bold" stroke="#000" stroke-width="0.28">0.04</text>
<line x1="422.4" y1="48.38" x2="424" y2="48.38" stroke="#000" stroke-width="0.64"/>
<text x="421.8" y="49.82" font-size="4" text-anchor="end" font-weight="bold" stroke="#000" stroke-width="0.28">0.05</text>
<line x1="422.4" y1="35.2" x2="424" y2="35.2" stroke="#000" stroke-width="0.64"/>
<text x="421.8" y="36.64" font-size="4" text-anchor="end" font-weight="bold" stroke="#000" stroke-width="0.28">0.06</text>
<line x1="423.04" y1="107.71" x2="424" y2="107.71" stroke="#000" stroke-width="0.64"/>
<line x1="423.04" y1="94.53" x2="424" y2="94.53" stroke="#000" stroke-width="0.64"/>
<line x1="423.04" y1="81.34" x2="424" y2="81.34" stroke="#000" stroke-width="0.64"/>
<line x1="423.04" y1="68.16" x2="424" y2="68.16" stroke="#000" stroke-width="0.64"/>
<line x1="423.04" y1="54.98" x2="424" y2="54.98" stroke="#000" stroke-width="0.64"/>
<line x1="423.04" y1="41.79" x2="424" y2="41.79" stroke="#000" stroke-width="0.64"/>
<line x1="442.25" y1="114.8" x2="442.25" y2="116.4" stroke="#000" stroke-width="0.64"/>
<text x="442.25" y="120.7" font-size="4" text-anchor="middle" stroke="#222" stroke-width="0.15" fill="#222">500</text>
<line x1="459.9" y1="114.8" x2="459.9" y2="116.4" stroke="#000" stroke-width="0.64"/>
<text x="459.9" y="120.7" font-size="4" text-anchor="middle" stroke="#222" stroke-width="0.15" fill="#222">1000</text>
<line x1="477.55" y1="114.8" x2="477.55" y2="116.4" stroke="#000" stroke-width="0.64"/>
<text x="477.55" y="120.7" font-size="4" text-anchor="middle" stroke="#222" stroke-width="0.15" fill="#222">1500</text>
<line x1="495.2" y1="114.8" x2="495.2" y2="116.4" stroke="#000" stroke-width="0.64"/>
<text x="495.2" y="120.7" font-size="4" text-anchor="middle" stroke="#222" stroke-width="0.15" fill="#222">2000</text>
<line x1="424.6" y1="114.8" x2="424.6" y2="116.4" stroke="#000" stroke-width="0.64"/>
<line x1="433.43" y1="114.8" x2="433.43" y2="115.76" stroke="#000" stroke-width="0.64"/>
<line x1="451.07" y1="114.8" x2="451.07" y2="115.76" stroke="#000" stroke-width="0.64"/>
<line x1="468.73" y1="114.8" x2="468.73" y2="115.76" stroke="#000" stroke-width="0.64"/>
<line x1="486.38" y1="114.8" x2="486.38" y2="115.76" stroke="#000" stroke-width="0.64"/>
<text x="421.2" y="115.8" font-size="4" text-anchor="end" font-weight="bold" stroke="#000" stroke-width="0.28">0.00</text>
<text x="424" y="124" font-size="5" text-anchor="middle" font-weight="bold" stroke="#000" stroke-width="0.28">0.00</text>
<text x="411.6" y="76" font-size="4.3" text-anchor="middle" transform="rotate(-90 411.6 76)" textLength="41" lengthAdjust="spacingAndGlyphs" stroke="#000" stroke-width="0.22">Pore Volume (cm<tspan font-size="3" dy="-1.5">3</tspan><tspan dy="1.5">/g)</tspan></text>
<text x="465.9" y="129.2" font-size="4.5" text-anchor="middle" font-weight="bold" stroke="#111" stroke-width="0.28" fill="#111" textLength="35.4" lengthAdjust="spacingAndGlyphs">Pore Diameter (Å)</text>
<polyline points="424.6,35.2 425.31,35.29 426.01,35.37 426.72,35.46 427.42,35.6 428.13,35.92 428.84,36.53 429.54,37.34 430.25,38.3 430.95,39.34 431.66,40.39 432.37,41.38 433.07,42.28 433.78,43.19 434.48,44.12 435.19,45.06 435.9,46.01 436.6,46.94 437.31,47.87 438.01,48.77 438.72,49.67 439.43,50.57 440.13,51.47 440.84,52.38 441.54,53.32 442.25,54.27 442.96,55.24 443.66,56.22 444.37,57.21 445.07,58.2 445.78,59.19 446.49,60.18 447.19,61.15 447.9,62.11 448.6,63.08 449.31,64.07 450.02,65.08 450.72,66.13 451.43,67.22 452.13,68.37 452.84,69.61 453.55,70.89 454.25,72.21 454.96,73.52 455.66,74.79 456.37,76.02 457.08,77.23 457.78,78.43 458.49,79.62 459.19,80.77 459.9,81.9 460.61,82.98 461.31,84.04 462.02,85.08 462.72,86.1 463.43,87.09 464.14,88.05 464.84,88.98 465.55,89.87 466.25,90.72 466.96,91.55 467.67,92.35 468.37,93.13 469.08,93.89 469.78,94.63 470.49,95.35 471.2,96.06 471.9,96.75 472.61,97.43 473.31,98.08 474.02,98.71 474.73,99.31 475.43,99.87 476.14,100.42 476.84,100.97 477.55,101.5 478.26,102.01 478.96,102.51 479.67,102.99 480.37,103.44 481.08,103.87 481.79,104.27 482.49,104.63 483.2,104.98 483.9,105.3 484.61,105.61 485.32,105.91 486.02,106.19 486.73,106.47 487.43,106.73 488.14,106.99 488.85,107.24 489.55,107.49 490.26,107.73 490.96,107.97 491.67,108.22 492.38,108.46 493.08,108.7 493.79,108.95 494.49,109.21 495.2,109.47 495.41,109.55" fill="none" stroke="#00f" stroke-width="1" stroke-linejoin="round"/>
<circle cx="424.6" cy="35.2" r="1.15" fill="#00f"/>
<circle cx="426.01" cy="35.37" r="1.15" fill="#00f"/>
<circle cx="427.42" cy="35.6" r="1.15" fill="#00f"/>
<circle cx="429.9" cy="37.81" r="1.15" fill="#00f"/>
<circle cx="432.68" cy="41.79" r="1.15" fill="#00f"/>
<circle cx="434.84" cy="44.59" r="1.15" fill="#00f"/>
<circle cx="437.1" cy="47.59" r="1.15" fill="#00f"/>
<circle cx="439.43" cy="50.57" r="1.15" fill="#00f"/>
<circle cx="441.4" cy="53.13" r="1.15" fill="#00f"/>
<circle cx="443.66" cy="56.22" r="1.15" fill="#00f"/>
<circle cx="445.78" cy="59.19" r="1.15" fill="#00f"/>
<circle cx="451.6" cy="67.5" r="1.15" fill="#00f"/>
<circle cx="456.02" cy="75.41" r="1.15" fill="#00f"/>
<circle cx="460.39" cy="82.66" r="1.15" fill="#00f"/>
<circle cx="465.58" cy="89.91" r="1.15" fill="#00f"/>
<circle cx="471.51" cy="96.37" r="1.15" fill="#00f"/>
<circle cx="475.01" cy="99.53" r="1.15" fill="#00f"/>
<circle cx="482.32" cy="104.54" r="1.15" fill="#00f"/>
<circle cx="495.41" cy="109.55" r="1.15" fill="#00f"/>
<text x="465.9" y="36.3" font-size="7" text-anchor="middle" font-weight="bold" stroke="#000" stroke-width="0.28" textLength="52.5" lengthAdjust="spacingAndGlyphs">CuO-TiO<tspan font-size="5" dy="1.6">2</tspan><tspan dy="-1.6"> 30–70</tspan></text>
<text x="514" y="63" font-size="9" text-anchor="middle" font-weight="bold" stroke="#000" stroke-width="0.28">(c)</text>
<line x1="410.8" y1="134.1" x2="425.4" y2="134.1" stroke="#222" stroke-width="1.8"/>
<circle cx="418.1" cy="134.1" r="1.6" fill="#000"/>
<line x1="410.8" y1="142.1" x2="425.4" y2="142.1" stroke="#00f" stroke-width="1.8"/>
<circle cx="418.1" cy="142.1" r="1.7" fill="#00f"/>
<text x="427.5" y="136.4" font-size="6.6" text-anchor="start" stroke="#111" stroke-width="0.15" fill="#111" textLength="30.6" lengthAdjust="spacingAndGlyphs">Adsorption</text>
<text x="427.5" y="144.4" font-size="6.6" text-anchor="start" stroke="#111" stroke-width="0.15" fill="#111" textLength="31.3" lengthAdjust="spacingAndGlyphs">Desorption</text>
<polyline points="408.86,154.59 410.54,154.53 412.48,154.46 414.41,154.4 416.99,154.31 419.57,154.22 423.44,154.07 428.6,153.85 435.05,153.52 441.5,153.12 447.95,152.67 454.4,152.19 460.85,151.67 467.3,151.1 473.75,150.47 480.2,149.79 486.65,149.04 493.1,148.2 499.55,147.2 506,145.83 511.16,144.57 516.71,142.85 519.54,141.29 521.74,139.06 523.67,134.7 525.35,130.56 526.64,126.25 527.54,122.06 528.45,115.59 529.09,108.74 529.74,98.56 530.25,85.45 530.64,64.4 530.9,48.48 531.15,35.9" fill="none" stroke="#000" stroke-width="1.35" stroke-linejoin="round"/>
<rect x="407.21" y="152.94" width="3.3" height="3.3" fill="#000"/>
<rect x="408.89" y="152.88" width="3.3" height="3.3" fill="#000"/>
<rect x="410.83" y="152.81" width="3.3" height="3.3" fill="#000"/>
<rect x="412.76" y="152.75" width="3.3" height="3.3" fill="#000"/>
<rect x="415.34" y="152.66" width="3.3" height="3.3" fill="#000"/>
<rect x="417.92" y="152.57" width="3.3" height="3.3" fill="#000"/>
<rect x="421.79" y="152.42" width="3.3" height="3.3" fill="#000"/>
<rect x="426.95" y="152.2" width="3.3" height="3.3" fill="#000"/>
<rect x="433.4" y="151.87" width="3.3" height="3.3" fill="#000"/>
<rect x="439.85" y="151.47" width="3.3" height="3.3" fill="#000"/>
<rect x="446.3" y="151.02" width="3.3" height="3.3" fill="#000"/>
<rect x="452.75" y="150.54" width="3.3" height="3.3" fill="#000"/>
<rect x="459.2" y="150.02" width="3.3" height="3.3" fill="#000"/>
<rect x="465.65" y="149.45" width="3.3" height="3.3" fill="#000"/>
<rect x="472.1" y="148.82" width="3.3" height="3.3" fill="#000"/>
<rect x="478.55" y="148.14" width="3.3" height="3.3" fill="#000"/>
<rect x="485" y="147.39" width="3.3" height="3.3" fill="#000"/>
<rect x="491.45" y="146.55" width="3.3" height="3.3" fill="#000"/>
<rect x="497.9" y="145.55" width="3.3" height="3.3" fill="#000"/>
<rect x="504.35" y="144.18" width="3.3" height="3.3" fill="#000"/>
<rect x="509.51" y="142.92" width="3.3" height="3.3" fill="#000"/>
<rect x="515.06" y="141.2" width="3.3" height="3.3" fill="#000"/>
<rect x="517.89" y="139.64" width="3.3" height="3.3" fill="#000"/>
<rect x="520.09" y="137.41" width="3.3" height="3.3" fill="#000"/>
<rect x="522.02" y="133.05" width="3.3" height="3.3" fill="#000"/>
<rect x="523.7" y="128.91" width="3.3" height="3.3" fill="#000"/>
<rect x="524.99" y="124.6" width="3.3" height="3.3" fill="#000"/>
<rect x="525.89" y="120.41" width="3.3" height="3.3" fill="#000"/>
<rect x="526.8" y="113.94" width="3.3" height="3.3" fill="#000"/>
<rect x="527.44" y="107.09" width="3.3" height="3.3" fill="#000"/>
<rect x="528.09" y="96.91" width="3.3" height="3.3" fill="#000"/>
<rect x="528.6" y="83.8" width="3.3" height="3.3" fill="#000"/>
<rect x="528.99" y="62.75" width="3.3" height="3.3" fill="#000"/>
<rect x="529.25" y="46.83" width="3.3" height="3.3" fill="#000"/>
<rect x="529.5" y="34.25" width="3.3" height="3.3" fill="#000"/>
<polyline points="416.73,154.33 422.54,154.03 428.6,153.67 435.05,153.1 441.63,152.41 446.66,151.85 451.69,151.24 456.98,150.61 462.14,150.08 467.3,149.68 472.46,149.34 477.62,149 483.42,148.49 487.94,147.92 493.1,147.09 498.13,146.2 503.03,145.34 507.93,144.2 510.51,143.23 512.84,142.1 515.03,140.84 516.84,139.58 518.51,138.14 520.19,136.4 521.48,134.87 522.64,133.11 523.54,131.27 524.32,129.01 525.09,124.9 525.87,120.95 526.38,115.59 526.9,108.74 527.54,99.87 528.06,90.65 528.57,78.06 528.83,68.84 529.09,55.87 529.22,45.89 529.35,40.34 529.48,32.58 529.61,23.7 529.74,14.83" fill="none" stroke="#00f" stroke-width="1.35" stroke-linejoin="round"/>
<circle cx="416.73" cy="154.33" r="1.75" fill="#00f"/>
<circle cx="422.54" cy="154.03" r="1.75" fill="#00f"/>
<circle cx="428.6" cy="153.67" r="1.75" fill="#00f"/>
<circle cx="435.05" cy="153.1" r="1.75" fill="#00f"/>
<circle cx="441.63" cy="152.41" r="1.75" fill="#00f"/>
<circle cx="446.66" cy="151.85" r="1.75" fill="#00f"/>
<circle cx="451.69" cy="151.24" r="1.75" fill="#00f"/>
<circle cx="456.98" cy="150.61" r="1.75" fill="#00f"/>
<circle cx="462.14" cy="150.08" r="1.75" fill="#00f"/>
<circle cx="467.3" cy="149.68" r="1.75" fill="#00f"/>
<circle cx="472.46" cy="149.34" r="1.75" fill="#00f"/>
<circle cx="477.62" cy="149" r="1.75" fill="#00f"/>
<circle cx="483.42" cy="148.49" r="1.75" fill="#00f"/>
<circle cx="487.94" cy="147.92" r="1.75" fill="#00f"/>
<circle cx="493.1" cy="147.09" r="1.75" fill="#00f"/>
<circle cx="498.13" cy="146.2" r="1.75" fill="#00f"/>
<circle cx="503.03" cy="145.34" r="1.75" fill="#00f"/>
<circle cx="507.93" cy="144.2" r="1.75" fill="#00f"/>
<circle cx="510.51" cy="143.23" r="1.75" fill="#00f"/>
<circle cx="512.84" cy="142.1" r="1.75" fill="#00f"/>
<circle cx="515.03" cy="140.84" r="1.75" fill="#00f"/>
<circle cx="516.84" cy="139.58" r="1.75" fill="#00f"/>
<circle cx="518.51" cy="138.14" r="1.75" fill="#00f"/>
<circle cx="520.19" cy="136.4" r="1.75" fill="#00f"/>
<circle cx="521.48" cy="134.87" r="1.75" fill="#00f"/>
<circle cx="522.64" cy="133.11" r="1.75" fill="#00f"/>
<circle cx="523.54" cy="131.27" r="1.75" fill="#00f"/>
<circle cx="524.32" cy="129.01" r="1.75" fill="#00f"/>
<circle cx="525.09" cy="124.9" r="1.75" fill="#00f"/>
<circle cx="525.87" cy="120.95" r="1.75" fill="#00f"/>
<circle cx="526.38" cy="115.59" r="1.75" fill="#00f"/>
<circle cx="526.9" cy="108.74" r="1.75" fill="#00f"/>
<circle cx="527.54" cy="99.87" r="1.75" fill="#00f"/>
<circle cx="528.06" cy="90.65" r="1.75" fill="#00f"/>
<circle cx="528.57" cy="78.06" r="1.75" fill="#00f"/>
<circle cx="528.83" cy="68.84" r="1.75" fill="#00f"/>
<circle cx="529.09" cy="55.87" r="1.75" fill="#00f"/>
<circle cx="529.22" cy="45.89" r="1.75" fill="#00f"/>
<circle cx="529.35" cy="40.34" r="1.75" fill="#00f"/>
<circle cx="529.48" cy="32.58" r="1.75" fill="#00f"/>
<circle cx="529.61" cy="23.7" r="1.75" fill="#00f"/>
<circle cx="529.74" cy="14.83" r="1.75" fill="#00f"/>
<rect x="35.8" y="192.4" width="147.4" height="154" fill="none" stroke="#1a1a1a" stroke-width="1.35"/>
<line x1="35.8" y1="346.4" x2="35.8" y2="349.4" stroke="#000" stroke-width="1.1"/>
<text x="36.3" y="355.6" font-size="7" text-anchor="middle" font-weight="bold" stroke="#000" stroke-width="0.28">0.0</text>
<line x1="62.6" y1="346.4" x2="62.6" y2="349.4" stroke="#000" stroke-width="1.1"/>
<text x="63.1" y="355.6" font-size="7" text-anchor="middle" font-weight="bold" stroke="#000" stroke-width="0.28">0.2</text>
<line x1="89.4" y1="346.4" x2="89.4" y2="349.4" stroke="#000" stroke-width="1.1"/>
<text x="89.9" y="355.6" font-size="7" text-anchor="middle" font-weight="bold" stroke="#000" stroke-width="0.28">0.4</text>
<line x1="116.2" y1="346.4" x2="116.2" y2="349.4" stroke="#000" stroke-width="1.1"/>
<text x="116.7" y="355.6" font-size="7" text-anchor="middle" font-weight="bold" stroke="#000" stroke-width="0.28">0.6</text>
<line x1="143" y1="346.4" x2="143" y2="349.4" stroke="#000" stroke-width="1.1"/>
<text x="143.5" y="355.6" font-size="7" text-anchor="middle" font-weight="bold" stroke="#000" stroke-width="0.28">0.8</text>
<line x1="169.8" y1="346.4" x2="169.8" y2="349.4" stroke="#000" stroke-width="1.1"/>
<text x="170.3" y="355.6" font-size="7" text-anchor="middle" font-weight="bold" stroke="#000" stroke-width="0.28">1.0</text>
<line x1="49.2" y1="346.4" x2="49.2" y2="348.1" stroke="#000" stroke-width="1.1"/>
<line x1="76" y1="346.4" x2="76" y2="348.1" stroke="#000" stroke-width="1.1"/>
<line x1="102.8" y1="346.4" x2="102.8" y2="348.1" stroke="#000" stroke-width="1.1"/>
<line x1="129.6" y1="346.4" x2="129.6" y2="348.1" stroke="#000" stroke-width="1.1"/>
<line x1="156.4" y1="346.4" x2="156.4" y2="348.1" stroke="#000" stroke-width="1.1"/>
<line x1="183.2" y1="346.4" x2="183.2" y2="348.1" stroke="#000" stroke-width="1.1"/>
<line x1="32.8" y1="346.3" x2="35.8" y2="346.3" stroke="#000" stroke-width="1.1"/>
<text x="30.8" y="348.7" font-size="6.6" text-anchor="end" font-weight="bold" stroke="#000" stroke-width="0.28">0</text>
<line x1="32.8" y1="325.99" x2="35.8" y2="325.99" stroke="#000" stroke-width="1.1"/>
<text x="30.8" y="328.39" font-size="6.6" text-anchor="end" font-weight="bold" stroke="#000" stroke-width="0.28">5</text>
<line x1="32.8" y1="305.67" x2="35.8" y2="305.67" stroke="#000" stroke-width="1.1"/>
<text x="30.8" y="308.07" font-size="6.6" text-anchor="end" font-weight="bold" stroke="#000" stroke-width="0.28">10</text>
<line x1="32.8" y1="285.36" x2="35.8" y2="285.36" stroke="#000" stroke-width="1.1"/>
<text x="30.8" y="287.76" font-size="6.6" text-anchor="end" font-weight="bold" stroke="#000" stroke-width="0.28">15</text>
<line x1="32.8" y1="265.04" x2="35.8" y2="265.04" stroke="#000" stroke-width="1.1"/>
<text x="30.8" y="267.44" font-size="6.6" text-anchor="end" font-weight="bold" stroke="#000" stroke-width="0.28">20</text>
<line x1="32.8" y1="244.73" x2="35.8" y2="244.73" stroke="#000" stroke-width="1.1"/>
<text x="30.8" y="247.13" font-size="6.6" text-anchor="end" font-weight="bold" stroke="#000" stroke-width="0.28">25</text>
<line x1="32.8" y1="224.41" x2="35.8" y2="224.41" stroke="#000" stroke-width="1.1"/>
<text x="30.8" y="226.81" font-size="6.6" text-anchor="end" font-weight="bold" stroke="#000" stroke-width="0.28">30</text>
<line x1="32.8" y1="204.1" x2="35.8" y2="204.1" stroke="#000" stroke-width="1.1"/>
<text x="30.8" y="206.5" font-size="6.6" text-anchor="end" font-weight="bold" stroke="#000" stroke-width="0.28">35</text>
<line x1="34.1" y1="336.14" x2="35.8" y2="336.14" stroke="#000" stroke-width="1.1"/>
<line x1="34.1" y1="315.83" x2="35.8" y2="315.83" stroke="#000" stroke-width="1.1"/>
<line x1="34.1" y1="295.51" x2="35.8" y2="295.51" stroke="#000" stroke-width="1.1"/>
<line x1="34.1" y1="275.2" x2="35.8" y2="275.2" stroke="#000" stroke-width="1.1"/>
<line x1="34.1" y1="254.89" x2="35.8" y2="254.89" stroke="#000" stroke-width="1.1"/>
<line x1="34.1" y1="234.57" x2="35.8" y2="234.57" stroke="#000" stroke-width="1.1"/>
<line x1="34.1" y1="214.26" x2="35.8" y2="214.26" stroke="#000" stroke-width="1.1"/>
<line x1="34.1" y1="193.94" x2="35.8" y2="193.94" stroke="#000" stroke-width="1.1"/>
<text x="15.9" y="298.3" font-size="7.4" text-anchor="middle" font-weight="bold" stroke="#000" stroke-width="0.28" transform="rotate(-90 15.9 298.3)" textLength="72.6" lengthAdjust="spacingAndGlyphs">Quantity Adsorbed</text>
<text x="15.9" y="236.9" font-size="7.4" text-anchor="middle" font-weight="bold" stroke="#000" stroke-width="0.28" transform="rotate(-90 15.9 236.9)" textLength="46.2" lengthAdjust="spacingAndGlyphs">(cm<tspan font-size="7.0" dy="-5.33">3</tspan><tspan dy="5.33" dx="0.6">/g STP)</tspan></text>
<text x="101.9" y="369" font-size="8" text-anchor="middle" font-weight="bold" stroke="#000" stroke-width="0.28" textLength="89" lengthAdjust="spacingAndGlyphs">Relative Pressure (P/Po)</text>
<line x1="59.9" y1="207.2" x2="59.9" y2="300.4" stroke="#000" stroke-width="0.8"/>
<line x1="59.9" y1="300.4" x2="145.4" y2="300.4" stroke="#000" stroke-width="0.8"/>
<line x1="58.3" y1="291.8" x2="59.9" y2="291.8" stroke="#000" stroke-width="0.64"/>
<text x="57.7" y="293.24" font-size="4" text-anchor="end" font-weight="bold" stroke="#000" stroke-width="0.28">0.01</text>
<line x1="58.3" y1="274.96" x2="59.9" y2="274.96" stroke="#000" stroke-width="0.64"/>
<text x="57.7" y="276.4" font-size="4" text-anchor="end" font-weight="bold" stroke="#000" stroke-width="0.28">0.02</text>
<line x1="58.3" y1="258.12" x2="59.9" y2="258.12" stroke="#000" stroke-width="0.64"/>
<text x="57.7" y="259.56" font-size="4" text-anchor="end" font-weight="bold" stroke="#000" stroke-width="0.28">0.03</text>
<line x1="58.3" y1="241.28" x2="59.9" y2="241.28" stroke="#000" stroke-width="0.64"/>
<text x="57.7" y="242.72" font-size="4" text-anchor="end" font-weight="bold" stroke="#000" stroke-width="0.28">0.04</text>
<line x1="58.3" y1="224.44" x2="59.9" y2="224.44" stroke="#000" stroke-width="0.64"/>
<text x="57.7" y="225.88" font-size="4" text-anchor="end" font-weight="bold" stroke="#000" stroke-width="0.28">0.05</text>
<line x1="58.3" y1="207.6" x2="59.9" y2="207.6" stroke="#000" stroke-width="0.64"/>
<text x="57.7" y="209.04" font-size="4" text-anchor="end" font-weight="bold" stroke="#000" stroke-width="0.28">0.06</text>
<line x1="58.94" y1="300.22" x2="59.9" y2="300.22" stroke="#000" stroke-width="0.64"/>
<line x1="58.94" y1="283.38" x2="59.9" y2="283.38" stroke="#000" stroke-width="0.64"/>
<line x1="58.94" y1="266.54" x2="59.9" y2="266.54" stroke="#000" stroke-width="0.64"/>
<line x1="58.94" y1="249.7" x2="59.9" y2="249.7" stroke="#000" stroke-width="0.64"/>
<line x1="58.94" y1="232.86" x2="59.9" y2="232.86" stroke="#000" stroke-width="0.64"/>
<line x1="58.94" y1="216.02" x2="59.9" y2="216.02" stroke="#000" stroke-width="0.64"/>
<line x1="59.9" y1="300.4" x2="59.9" y2="302" stroke="#000" stroke-width="0.64"/>
<text x="59.9" y="305.4" font-size="4" text-anchor="middle" stroke="#222" stroke-width="0.15" fill="#222">0</text>
<line x1="78.95" y1="300.4" x2="78.95" y2="302" stroke="#000" stroke-width="0.64"/>
<text x="78.95" y="305.4" font-size="4" text-anchor="middle" stroke="#222" stroke-width="0.15" fill="#222">500</text>
<line x1="98" y1="300.4" x2="98" y2="302" stroke="#000" stroke-width="0.64"/>
<text x="98" y="305.4" font-size="4" text-anchor="middle" stroke="#222" stroke-width="0.15" fill="#222">1000</text>
<line x1="117.05" y1="300.4" x2="117.05" y2="302" stroke="#000" stroke-width="0.64"/>
<text x="117.05" y="305.4" font-size="4" text-anchor="middle" stroke="#222" stroke-width="0.15" fill="#222">1500</text>
<line x1="136.1" y1="300.4" x2="136.1" y2="302" stroke="#000" stroke-width="0.64"/>
<text x="136.1" y="305.4" font-size="4" text-anchor="middle" stroke="#222" stroke-width="0.15" fill="#222">2000</text>
<line x1="69.42" y1="300.4" x2="69.42" y2="301.36" stroke="#000" stroke-width="0.64"/>
<line x1="88.47" y1="300.4" x2="88.47" y2="301.36" stroke="#000" stroke-width="0.64"/>
<line x1="107.52" y1="300.4" x2="107.52" y2="301.36" stroke="#000" stroke-width="0.64"/>
<line x1="126.57" y1="300.4" x2="126.57" y2="301.36" stroke="#000" stroke-width="0.64"/>
<text x="47" y="258.8" font-size="4.3" text-anchor="middle" transform="rotate(-90 47 258.8)" textLength="41.5" lengthAdjust="spacingAndGlyphs" stroke="#000" stroke-width="0.22">Pore Volume (cm<tspan font-size="3" dy="-1.5">3</tspan><tspan dy="1.5">/g)</tspan></text>
<text x="95.9" y="315.8" font-size="4.5" text-anchor="middle" font-weight="bold" stroke="#111" stroke-width="0.28" fill="#111" textLength="37" lengthAdjust="spacingAndGlyphs">Pore Diameter (Å)</text>
<polyline points="59.9,221.58 98,257.11 134.19,292.64" fill="none" stroke="#0ff" stroke-width="1" stroke-linejoin="round"/>
<circle cx="59.9" cy="221.58" r="1.15" fill="#0ff"/>
<circle cx="62.19" cy="223.71" r="1.15" fill="#0ff"/>
<circle cx="64.85" cy="226.18" r="1.15" fill="#0ff"/>
<circle cx="67.52" cy="228.65" r="1.15" fill="#0ff"/>
<circle cx="69.81" cy="230.77" r="1.15" fill="#0ff"/>
<circle cx="72.47" cy="233.24" r="1.15" fill="#0ff"/>
<circle cx="75.14" cy="235.7" r="1.15" fill="#0ff"/>
<circle cx="78.95" cy="239.23" r="1.15" fill="#0ff"/>
<circle cx="82.76" cy="242.76" r="1.15" fill="#0ff"/>
<circle cx="86.57" cy="246.31" r="1.15" fill="#0ff"/>
<circle cx="90.38" cy="249.89" r="1.15" fill="#0ff"/>
<circle cx="94.19" cy="253.48" r="1.15" fill="#0ff"/>
<circle cx="99.91" cy="258.94" r="1.15" fill="#0ff"/>
<circle cx="105.62" cy="264.47" r="1.15" fill="#0ff"/>
<circle cx="115.14" cy="273.82" r="1.15" fill="#0ff"/>
<circle cx="126.57" cy="285.13" r="1.15" fill="#0ff"/>
<circle cx="134.19" cy="292.64" r="1.15" fill="#0ff"/>
<text x="109" y="224.3" font-size="7" text-anchor="middle" font-weight="bold" stroke="#000" stroke-width="0.28" textLength="51.5" lengthAdjust="spacingAndGlyphs">CuO-TiO<tspan font-size="5" dy="1.6">2</tspan><tspan dy="-1.6"> 50–50</tspan></text>
<text x="140.5" y="247.5" font-size="9.6" text-anchor="middle" font-weight="bold" stroke="#000" stroke-width="0.28">(d)</text>
<line x1="40" y1="321.2" x2="54" y2="321.2" stroke="#222" stroke-width="1.8"/>
<circle cx="47" cy="321.2" r="1.6" fill="#000"/>
<line x1="40" y1="329.7" x2="54" y2="329.7" stroke="#0ff" stroke-width="1.8"/>
<circle cx="47" cy="329.7" r="1.7" fill="#0ff"/>
<text x="56.7" y="323.5" font-size="6.6" text-anchor="start" stroke="#111" stroke-width="0.15" fill="#111" textLength="32.2" lengthAdjust="spacingAndGlyphs">Adsorption</text>
<text x="56.7" y="332" font-size="6.6" text-anchor="start" stroke="#111" stroke-width="0.15" fill="#111" textLength="33.5" lengthAdjust="spacingAndGlyphs">Desorption</text>
<polyline points="42.5,341.42 45.18,341.29 47.86,341.17 50.54,341.04 54.56,340.85 58.58,340.64 62.6,340.41 69.3,339.93 76,339.37 82.7,338.77 89.4,338.17 96.1,337.6 102.8,337.01 109.5,336.4 116.2,335.74 122.9,335.03 129.6,334.25 136.3,333.3 143,332.15 148.36,330.93 152.92,329.48 156.4,327.47 158.54,325.78 160.42,324.06 162.16,321.96 163.77,319.36 164.98,316.48 166.05,312.5 166.85,307.17 167.39,298.83 167.79,288.61 168.19,271.39 168.46,256.92 168.73,242.39 169,224.41 169.26,196.38" fill="none" stroke="#000" stroke-width="1.35" stroke-linejoin="round"/>
<rect x="40.85" y="339.77" width="3.3" height="3.3" fill="#000"/>
<rect x="43.53" y="339.64" width="3.3" height="3.3" fill="#000"/>
<rect x="46.21" y="339.52" width="3.3" height="3.3" fill="#000"/>
<rect x="48.89" y="339.39" width="3.3" height="3.3" fill="#000"/>
<rect x="52.91" y="339.2" width="3.3" height="3.3" fill="#000"/>
<rect x="56.93" y="338.99" width="3.3" height="3.3" fill="#000"/>
<rect x="60.95" y="338.76" width="3.3" height="3.3" fill="#000"/>
<rect x="67.65" y="338.28" width="3.3" height="3.3" fill="#000"/>
<rect x="74.35" y="337.72" width="3.3" height="3.3" fill="#000"/>
<rect x="81.05" y="337.12" width="3.3" height="3.3" fill="#000"/>
<rect x="87.75" y="336.52" width="3.3" height="3.3" fill="#000"/>
<rect x="94.45" y="335.95" width="3.3" height="3.3" fill="#000"/>
<rect x="101.15" y="335.36" width="3.3" height="3.3" fill="#000"/>
<rect x="107.85" y="334.75" width="3.3" height="3.3" fill="#000"/>
<rect x="114.55" y="334.09" width="3.3" height="3.3" fill="#000"/>
<rect x="121.25" y="333.38" width="3.3" height="3.3" fill="#000"/>
<rect x="127.95" y="332.6" width="3.3" height="3.3" fill="#000"/>
<rect x="134.65" y="331.65" width="3.3" height="3.3" fill="#000"/>
<rect x="141.35" y="330.5" width="3.3" height="3.3" fill="#000"/>
<rect x="146.71" y="329.28" width="3.3" height="3.3" fill="#000"/>
<rect x="151.27" y="327.83" width="3.3" height="3.3" fill="#000"/>
<rect x="154.75" y="325.82" width="3.3" height="3.3" fill="#000"/>
<rect x="156.89" y="324.13" width="3.3" height="3.3" fill="#000"/>
<rect x="158.77" y="322.41" width="3.3" height="3.3" fill="#000"/>
<rect x="160.51" y="320.31" width="3.3" height="3.3" fill="#000"/>
<rect x="162.12" y="317.71" width="3.3" height="3.3" fill="#000"/>
<rect x="163.33" y="314.83" width="3.3" height="3.3" fill="#000"/>
<rect x="164.4" y="310.85" width="3.3" height="3.3" fill="#000"/>
<rect x="165.2" y="305.52" width="3.3" height="3.3" fill="#000"/>
<rect x="165.74" y="297.18" width="3.3" height="3.3" fill="#000"/>
<rect x="166.14" y="286.96" width="3.3" height="3.3" fill="#000"/>
<rect x="166.54" y="269.74" width="3.3" height="3.3" fill="#000"/>
<rect x="166.81" y="255.27" width="3.3" height="3.3" fill="#000"/>
<rect x="167.08" y="240.74" width="3.3" height="3.3" fill="#000"/>
<rect x="167.35" y="222.76" width="3.3" height="3.3" fill="#000"/>
<rect x="167.61" y="194.73" width="3.3" height="3.3" fill="#000"/>
<polyline points="50.27,341.42 54.56,341 58.58,340.6 62.6,340.21 69.3,339.59 76,338.99 82.7,338.32 89.4,337.66 96.1,337.1 102.8,336.61 109.5,336.14 116.2,335.7 125.04,335.01 129.6,334.41 134.29,333.58 138.98,332.55 143.54,331.31 147.02,330.22 151.04,328.59 154.39,326.53 157.47,323.95 159.35,322 161.22,319.28 162.56,316.36 163.64,312.78 164.44,307.98 164.98,303.64 165.65,297.77 166.32,288.61 166.85,269.92 167.12,253.67 167.66,240.54 168.06,232.54 168.46,224.36 168.86,211.01 169,196.38" fill="none" stroke="#0ff" stroke-width="1.35" stroke-linejoin="round"/>
<circle cx="50.27" cy="341.42" r="1.75" fill="#0ff"/>
<circle cx="54.56" cy="341" r="1.75" fill="#0ff"/>
<circle cx="58.58" cy="340.6" r="1.75" fill="#0ff"/>
<circle cx="62.6" cy="340.21" r="1.75" fill="#0ff"/>
<circle cx="69.3" cy="339.59" r="1.75" fill="#0ff"/>
<circle cx="76" cy="338.99" r="1.75" fill="#0ff"/>
<circle cx="82.7" cy="338.32" r="1.75" fill="#0ff"/>
<circle cx="89.4" cy="337.66" r="1.75" fill="#0ff"/>
<circle cx="96.1" cy="337.1" r="1.75" fill="#0ff"/>
<circle cx="102.8" cy="336.61" r="1.75" fill="#0ff"/>
<circle cx="109.5" cy="336.14" r="1.75" fill="#0ff"/>
<circle cx="116.2" cy="335.7" r="1.75" fill="#0ff"/>
<circle cx="125.04" cy="335.01" r="1.75" fill="#0ff"/>
<circle cx="129.6" cy="334.41" r="1.75" fill="#0ff"/>
<circle cx="134.29" cy="333.58" r="1.75" fill="#0ff"/>
<circle cx="138.98" cy="332.55" r="1.75" fill="#0ff"/>
<circle cx="143.54" cy="331.31" r="1.75" fill="#0ff"/>
<circle cx="147.02" cy="330.22" r="1.75" fill="#0ff"/>
<circle cx="151.04" cy="328.59" r="1.75" fill="#0ff"/>
<circle cx="154.39" cy="326.53" r="1.75" fill="#0ff"/>
<circle cx="157.47" cy="323.95" r="1.75" fill="#0ff"/>
<circle cx="159.35" cy="322" r="1.75" fill="#0ff"/>
<circle cx="161.22" cy="319.28" r="1.75" fill="#0ff"/>
<circle cx="162.56" cy="316.36" r="1.75" fill="#0ff"/>
<circle cx="163.64" cy="312.78" r="1.75" fill="#0ff"/>
<circle cx="164.44" cy="307.98" r="1.75" fill="#0ff"/>
<circle cx="164.98" cy="303.64" r="1.75" fill="#0ff"/>
<circle cx="165.65" cy="297.77" r="1.75" fill="#0ff"/>
<circle cx="166.32" cy="288.61" r="1.75" fill="#0ff"/>
<circle cx="166.85" cy="269.92" r="1.75" fill="#0ff"/>
<circle cx="167.12" cy="253.67" r="1.75" fill="#0ff"/>
<circle cx="167.66" cy="240.54" r="1.75" fill="#0ff"/>
<circle cx="168.06" cy="232.54" r="1.75" fill="#0ff"/>
<circle cx="168.46" cy="224.36" r="1.75" fill="#0ff"/>
<circle cx="168.86" cy="211.01" r="1.75" fill="#0ff"/>
<circle cx="169" cy="196.38" r="1.75" fill="#0ff"/>
<rect x="222.1" y="195.5" width="142.7" height="150.2" fill="none" stroke="#1a1a1a" stroke-width="1.35"/>
<line x1="221.5" y1="345.7" x2="221.5" y2="348.7" stroke="#000" stroke-width="1.1"/>
<text x="222.5" y="355.7" font-size="7" text-anchor="middle" font-weight="bold" stroke="#000" stroke-width="0.28">0.0</text>
<line x1="247.5" y1="345.7" x2="247.5" y2="348.7" stroke="#000" stroke-width="1.1"/>
<text x="248.5" y="355.7" font-size="7" text-anchor="middle" font-weight="bold" stroke="#000" stroke-width="0.28">0.2</text>
<line x1="273.5" y1="345.7" x2="273.5" y2="348.7" stroke="#000" stroke-width="1.1"/>
<text x="274.5" y="355.7" font-size="7" text-anchor="middle" font-weight="bold" stroke="#000" stroke-width="0.28">0.4</text>
<line x1="299.5" y1="345.7" x2="299.5" y2="348.7" stroke="#000" stroke-width="1.1"/>
<text x="300.5" y="355.7" font-size="7" text-anchor="middle" font-weight="bold" stroke="#000" stroke-width="0.28">0.6</text>
<line x1="325.5" y1="345.7" x2="325.5" y2="348.7" stroke="#000" stroke-width="1.1"/>
<text x="326.5" y="355.7" font-size="7" text-anchor="middle" font-weight="bold" stroke="#000" stroke-width="0.28">0.8</text>
<line x1="351.5" y1="345.7" x2="351.5" y2="348.7" stroke="#000" stroke-width="1.1"/>
<text x="352.5" y="355.7" font-size="7" text-anchor="middle" font-weight="bold" stroke="#000" stroke-width="0.28">1.0</text>
<line x1="234.5" y1="345.7" x2="234.5" y2="347.4" stroke="#000" stroke-width="1.1"/>
<line x1="260.5" y1="345.7" x2="260.5" y2="347.4" stroke="#000" stroke-width="1.1"/>
<line x1="286.5" y1="345.7" x2="286.5" y2="347.4" stroke="#000" stroke-width="1.1"/>
<line x1="312.5" y1="345.7" x2="312.5" y2="347.4" stroke="#000" stroke-width="1.1"/>
<line x1="338.5" y1="345.7" x2="338.5" y2="347.4" stroke="#000" stroke-width="1.1"/>
<line x1="364.5" y1="345.7" x2="364.5" y2="347.4" stroke="#000" stroke-width="1.1"/>
<line x1="219.1" y1="336" x2="222.1" y2="336" stroke="#000" stroke-width="1.1"/>
<text x="217.3" y="338.4" font-size="6.6" text-anchor="end" font-weight="bold" stroke="#000" stroke-width="0.28">0</text>
<line x1="219.1" y1="314.32" x2="222.1" y2="314.32" stroke="#000" stroke-width="1.1"/>
<text x="217.3" y="316.72" font-size="6.6" text-anchor="end" font-weight="bold" stroke="#000" stroke-width="0.28">5</text>
<line x1="219.1" y1="292.63" x2="222.1" y2="292.63" stroke="#000" stroke-width="1.1"/>
<text x="217.3" y="295.03" font-size="6.6" text-anchor="end" font-weight="bold" stroke="#000" stroke-width="0.28">10</text>
<line x1="219.1" y1="270.95" x2="222.1" y2="270.95" stroke="#000" stroke-width="1.1"/>
<text x="217.3" y="273.35" font-size="6.6" text-anchor="end" font-weight="bold" stroke="#000" stroke-width="0.28">15</text>
<line x1="219.1" y1="249.27" x2="222.1" y2="249.27" stroke="#000" stroke-width="1.1"/>
<text x="217.3" y="251.67" font-size="6.6" text-anchor="end" font-weight="bold" stroke="#000" stroke-width="0.28">20</text>
<line x1="219.1" y1="227.58" x2="222.1" y2="227.58" stroke="#000" stroke-width="1.1"/>
<text x="217.3" y="229.98" font-size="6.6" text-anchor="end" font-weight="bold" stroke="#000" stroke-width="0.28">25</text>
<line x1="219.1" y1="205.9" x2="222.1" y2="205.9" stroke="#000" stroke-width="1.1"/>
<text x="217.3" y="208.3" font-size="6.6" text-anchor="end" font-weight="bold" stroke="#000" stroke-width="0.28">30</text>
<line x1="220.4" y1="346.84" x2="222.1" y2="346.84" stroke="#000" stroke-width="1.1"/>
<line x1="220.4" y1="325.16" x2="222.1" y2="325.16" stroke="#000" stroke-width="1.1"/>
<line x1="220.4" y1="303.48" x2="222.1" y2="303.48" stroke="#000" stroke-width="1.1"/>
<line x1="220.4" y1="281.79" x2="222.1" y2="281.79" stroke="#000" stroke-width="1.1"/>
<line x1="220.4" y1="260.11" x2="222.1" y2="260.11" stroke="#000" stroke-width="1.1"/>
<line x1="220.4" y1="238.43" x2="222.1" y2="238.43" stroke="#000" stroke-width="1.1"/>
<line x1="220.4" y1="216.74" x2="222.1" y2="216.74" stroke="#000" stroke-width="1.1"/>
<line x1="220.4" y1="195.06" x2="222.1" y2="195.06" stroke="#000" stroke-width="1.1"/>
<text x="205.8" y="299.95" font-size="7.4" text-anchor="middle" font-weight="bold" stroke="#000" stroke-width="0.28" transform="rotate(-90 205.8 299.95)" textLength="70.9" lengthAdjust="spacingAndGlyphs">Quantity Adsorbed</text>
<text x="205.8" y="240.3" font-size="7.4" text-anchor="middle" font-weight="bold" stroke="#000" stroke-width="0.28" transform="rotate(-90 205.8 240.3)" textLength="44.4" lengthAdjust="spacingAndGlyphs">(cm<tspan font-size="7.0" dy="-5.33">3</tspan><tspan dy="5.33" dx="0.6">/g STP)</tspan></text>
<text x="287.3" y="369" font-size="8" text-anchor="middle" font-weight="bold" stroke="#000" stroke-width="0.28" textLength="86.4" lengthAdjust="spacingAndGlyphs">Relative Pressure (P/Po)</text>
<line x1="246.6" y1="213.8" x2="246.6" y2="304.5" stroke="#000" stroke-width="0.8"/>
<line x1="246.6" y1="304.5" x2="330.5" y2="304.5" stroke="#000" stroke-width="0.8"/>
<line x1="245" y1="303.9" x2="246.6" y2="303.9" stroke="#000" stroke-width="0.64"/>
<text x="244.4" y="305.27" font-size="3.8" text-anchor="end" font-weight="bold" stroke="#000" stroke-width="0.28">0.000</text>
<line x1="245" y1="291.96" x2="246.6" y2="291.96" stroke="#000" stroke-width="0.64"/>
<text x="244.4" y="293.33" font-size="3.8" text-anchor="end" font-weight="bold" stroke="#000" stroke-width="0.28">0.005</text>
<line x1="245" y1="280.01" x2="246.6" y2="280.01" stroke="#000" stroke-width="0.64"/>
<text x="244.4" y="281.38" font-size="3.8" text-anchor="end" font-weight="bold" stroke="#000" stroke-width="0.28">0.010</text>
<line x1="245" y1="268.07" x2="246.6" y2="268.07" stroke="#000" stroke-width="0.64"/>
<text x="244.4" y="269.44" font-size="3.8" text-anchor="end" font-weight="bold" stroke="#000" stroke-width="0.28">0.015</text>
<line x1="245" y1="256.13" x2="246.6" y2="256.13" stroke="#000" stroke-width="0.64"/>
<text x="244.4" y="257.5" font-size="3.8" text-anchor="end" font-weight="bold" stroke="#000" stroke-width="0.28">0.020</text>
<line x1="245" y1="244.19" x2="246.6" y2="244.19" stroke="#000" stroke-width="0.64"/>
<text x="244.4" y="245.55" font-size="3.8" text-anchor="end" font-weight="bold" stroke="#000" stroke-width="0.28">0.025</text>
<line x1="245" y1="232.24" x2="246.6" y2="232.24" stroke="#000" stroke-width="0.64"/>
<text x="244.4" y="233.61" font-size="3.8" text-anchor="end" font-weight="bold" stroke="#000" stroke-width="0.28">0.030</text>
<line x1="245" y1="220.3" x2="246.6" y2="220.3" stroke="#000" stroke-width="0.64"/>
<text x="244.4" y="221.67" font-size="3.8" text-anchor="end" font-weight="bold" stroke="#000" stroke-width="0.28">0.035</text>
<line x1="246.6" y1="304.5" x2="246.6" y2="306.1" stroke="#000" stroke-width="0.64"/>
<text x="246.6" y="309.63" font-size="3.8" text-anchor="middle" stroke="#222" stroke-width="0.15" fill="#222">0</text>
<line x1="267.2" y1="304.5" x2="267.2" y2="306.1" stroke="#000" stroke-width="0.64"/>
<text x="267.2" y="309.63" font-size="3.8" text-anchor="middle" stroke="#222" stroke-width="0.15" fill="#222">500</text>
<line x1="287.8" y1="304.5" x2="287.8" y2="306.1" stroke="#000" stroke-width="0.64"/>
<text x="287.8" y="309.63" font-size="3.8" text-anchor="middle" stroke="#222" stroke-width="0.15" fill="#222">1000</text>
<line x1="308.4" y1="304.5" x2="308.4" y2="306.1" stroke="#000" stroke-width="0.64"/>
<text x="308.4" y="309.63" font-size="3.8" text-anchor="middle" stroke="#222" stroke-width="0.15" fill="#222">1500</text>
<line x1="329" y1="304.5" x2="329" y2="306.1" stroke="#000" stroke-width="0.64"/>
<text x="329" y="309.63" font-size="3.8" text-anchor="middle" stroke="#222" stroke-width="0.15" fill="#222">2000</text>
<line x1="256.9" y1="304.5" x2="256.9" y2="305.46" stroke="#000" stroke-width="0.64"/>
<line x1="277.5" y1="304.5" x2="277.5" y2="305.46" stroke="#000" stroke-width="0.64"/>
<line x1="298.1" y1="304.5" x2="298.1" y2="305.46" stroke="#000" stroke-width="0.64"/>
<line x1="318.7" y1="304.5" x2="318.7" y2="305.46" stroke="#000" stroke-width="0.64"/>
<text x="232.6" y="253" font-size="4.3" text-anchor="middle" transform="rotate(-90 232.6 253)" textLength="45.8" lengthAdjust="spacingAndGlyphs" stroke="#000" stroke-width="0.22">Pore Volume (cm<tspan font-size="3" dy="-1.5">3</tspan><tspan dy="1.5">/g)</tspan></text>
<text x="284.8" y="318.8" font-size="4.7" text-anchor="middle" stroke="#111" stroke-width="0.15" fill="#111" textLength="36.4" lengthAdjust="spacingAndGlyphs">Pore Diameter (Å)</text>
<polyline points="246.6,219.61 247.42,219.97 248.25,220.38 249.07,220.83 249.9,221.32 250.72,221.85 251.54,222.41 252.37,223 253.19,223.63 254.02,224.28 254.84,224.97 255.66,225.68 256.49,226.42 257.31,227.19 258.14,227.97 258.96,228.78 259.78,229.61 260.61,230.46 261.43,231.32 262.26,232.2 263.08,233.1 263.9,234.01 264.73,234.94 265.55,235.87 266.38,236.82 267.2,237.77 268.02,238.74 268.85,239.71 269.67,240.69 270.5,241.67 271.32,242.66 272.14,243.65 272.97,244.64 273.79,245.64 274.62,246.63 275.44,247.63 276.26,248.63 277.09,249.62 277.91,250.62 278.74,251.61 279.56,252.59 280.38,253.58 281.21,254.55 282.03,255.53 282.86,256.5 283.68,257.46 284.5,258.41 285.33,259.36 286.15,260.3 286.98,261.23 287.8,262.16 288.62,263.07 289.45,263.98 290.27,264.88 291.1,265.77 291.92,266.65 292.74,267.52 293.57,268.38 294.39,269.23 295.22,270.07 296.04,270.9 296.86,271.72 297.69,272.53 298.51,273.33 299.34,274.12 300.16,274.9 300.98,275.67 301.81,276.43 302.63,277.18 303.46,277.92 304.28,278.65 305.1,279.38 305.93,280.09 306.75,280.8 307.58,281.5 308.4,282.2 309.22,282.88 310.05,283.56 310.87,284.24 311.7,284.9 312.52,285.57 313.34,286.23 314.17,286.88 314.99,287.53 315.82,288.18 316.64,288.83 317.46,289.48 318.29,290.12 319.11,290.77 319.94,291.42 320.76,292.07 321.58,292.72 322.24,293.25" fill="none" stroke="#f0f" stroke-width="1" stroke-linejoin="round"/>
<circle cx="246.6" cy="219.61" r="1.15" fill="#f0f"/>
<circle cx="248.66" cy="220.6" r="1.15" fill="#f0f"/>
<circle cx="250.93" cy="221.98" r="1.15" fill="#f0f"/>
<circle cx="253.19" cy="223.63" r="1.15" fill="#f0f"/>
<circle cx="255.29" cy="225.36" r="1.15" fill="#f0f"/>
<circle cx="257.31" cy="227.19" r="1.15" fill="#f0f"/>
<circle cx="259.5" cy="229.32" r="1.15" fill="#f0f"/>
<circle cx="261.84" cy="231.76" r="1.15" fill="#f0f"/>
<circle cx="263.99" cy="234.1" r="1.15" fill="#f0f"/>
<circle cx="268.11" cy="238.83" r="1.15" fill="#f0f"/>
<circle cx="273.3" cy="245.04" r="1.15" fill="#f0f"/>
<circle cx="278.41" cy="251.21" r="1.15" fill="#f0f"/>
<circle cx="283.6" cy="257.36" r="1.15" fill="#f0f"/>
<circle cx="290.52" cy="265.15" r="1.15" fill="#f0f"/>
<circle cx="297.4" cy="272.24" r="1.15" fill="#f0f"/>
<circle cx="304.28" cy="278.65" r="1.15" fill="#f0f"/>
<circle cx="311.2" cy="284.5" r="1.15" fill="#f0f"/>
<circle cx="322.24" cy="293.25" r="1.15" fill="#f0f"/>
<text x="286.3" y="221.1" font-size="7" text-anchor="middle" font-weight="bold" stroke="#000" stroke-width="0.28" textLength="50.7" lengthAdjust="spacingAndGlyphs">CuO-TiO<tspan font-size="5" dy="1.6">2</tspan><tspan dy="-1.6"> 70–30</tspan></text>
<text x="326" y="250.9" font-size="9.3" text-anchor="middle" font-weight="bold" stroke="#000" stroke-width="0.28">(e)</text>
<line x1="225.9" y1="317.4" x2="239.8" y2="317.4" stroke="#222" stroke-width="1.8"/>
<circle cx="232.85" cy="317.4" r="1.6" fill="#000"/>
<line x1="225.9" y1="325.1" x2="239.8" y2="325.1" stroke="#f0f" stroke-width="1.8"/>
<circle cx="232.85" cy="325.1" r="1.7" fill="#f0f"/>
<text x="241.9" y="319.7" font-size="6.6" text-anchor="start" stroke="#111" stroke-width="0.15" fill="#111" textLength="30.8" lengthAdjust="spacingAndGlyphs">Adsorption</text>
<text x="241.9" y="327.4" font-size="6.6" text-anchor="start" stroke="#111" stroke-width="0.15" fill="#111" textLength="31.5" lengthAdjust="spacingAndGlyphs">Desorption</text>
<polyline points="229.04,331.66 231.25,331.61 233.85,331.56 237.1,331.49 241,331.41 244.9,331.31 247.5,331.23 254,330.94 260.5,330.55 267,330.12 273.5,329.71 280,329.35 286.5,328.99 293,328.63 299.5,328.29 306,327.93 310.03,327.63 313.8,327.2 317.44,326.72 320.95,326.33 324.85,325.81 328.1,325.13 332.26,323.9 335.9,322.45 339.67,320.21 342.4,317.5 344.35,314.62 345.91,311.34 347.21,307.25 348.25,301.94 349.03,296.1 349.55,290.89 349.94,284.83 350.46,266.61 350.85,240.59 351.11,227.58 351.24,214.57" fill="none" stroke="#000" stroke-width="1.35" stroke-linejoin="round"/>
<rect x="227.39" y="330.01" width="3.3" height="3.3" fill="#000"/>
<rect x="229.6" y="329.96" width="3.3" height="3.3" fill="#000"/>
<rect x="232.2" y="329.91" width="3.3" height="3.3" fill="#000"/>
<rect x="235.45" y="329.84" width="3.3" height="3.3" fill="#000"/>
<rect x="239.35" y="329.76" width="3.3" height="3.3" fill="#000"/>
<rect x="243.25" y="329.66" width="3.3" height="3.3" fill="#000"/>
<rect x="245.85" y="329.58" width="3.3" height="3.3" fill="#000"/>
<rect x="252.35" y="329.29" width="3.3" height="3.3" fill="#000"/>
<rect x="258.85" y="328.9" width="3.3" height="3.3" fill="#000"/>
<rect x="265.35" y="328.47" width="3.3" height="3.3" fill="#000"/>
<rect x="271.85" y="328.06" width="3.3" height="3.3" fill="#000"/>
<rect x="278.35" y="327.7" width="3.3" height="3.3" fill="#000"/>
<rect x="284.85" y="327.34" width="3.3" height="3.3" fill="#000"/>
<rect x="291.35" y="326.98" width="3.3" height="3.3" fill="#000"/>
<rect x="297.85" y="326.64" width="3.3" height="3.3" fill="#000"/>
<rect x="304.35" y="326.28" width="3.3" height="3.3" fill="#000"/>
<rect x="308.38" y="325.98" width="3.3" height="3.3" fill="#000"/>
<rect x="312.15" y="325.55" width="3.3" height="3.3" fill="#000"/>
<rect x="315.79" y="325.07" width="3.3" height="3.3" fill="#000"/>
<rect x="319.3" y="324.68" width="3.3" height="3.3" fill="#000"/>
<rect x="323.2" y="324.16" width="3.3" height="3.3" fill="#000"/>
<rect x="326.45" y="323.48" width="3.3" height="3.3" fill="#000"/>
<rect x="330.61" y="322.25" width="3.3" height="3.3" fill="#000"/>
<rect x="334.25" y="320.8" width="3.3" height="3.3" fill="#000"/>
<rect x="338.02" y="318.56" width="3.3" height="3.3" fill="#000"/>
<rect x="340.75" y="315.85" width="3.3" height="3.3" fill="#000"/>
<rect x="342.7" y="312.97" width="3.3" height="3.3" fill="#000"/>
<rect x="344.26" y="309.69" width="3.3" height="3.3" fill="#000"/>
<rect x="345.56" y="305.6" width="3.3" height="3.3" fill="#000"/>
<rect x="346.6" y="300.29" width="3.3" height="3.3" fill="#000"/>
<rect x="347.38" y="294.45" width="3.3" height="3.3" fill="#000"/>
<rect x="347.9" y="289.24" width="3.3" height="3.3" fill="#000"/>
<rect x="348.29" y="283.18" width="3.3" height="3.3" fill="#000"/>
<rect x="348.81" y="264.96" width="3.3" height="3.3" fill="#000"/>
<rect x="349.2" y="238.94" width="3.3" height="3.3" fill="#000"/>
<rect x="349.46" y="225.93" width="3.3" height="3.3" fill="#000"/>
<rect x="349.59" y="212.92" width="3.3" height="3.3" fill="#000"/>
<polyline points="234.11,332.31 237.1,332.12 241,331.87 247.5,331.45 254,331.02 260.5,330.6 267,330.17 273.5,329.73 280,329.28 286.5,328.82 293,328.34 297.03,327.98 303.4,327.24 310.03,326.33 313.8,325.81 317.44,325.2 320.95,324.29 324.85,322.99 328.75,321.51 332.26,319.82 335.25,317.84 337.85,315.62 340.45,312.96 342.53,309.98 343.96,306.77 345.26,302.61 346.3,298.02 347.21,292.37 347.73,287.53 348.12,283.09 348.64,278 349.03,270.95 349.29,249.7 349.68,242.38 350.07,236.69 350.46,224.11 350.98,215.56 351.37,210.24" fill="none" stroke="#f0f" stroke-width="1.35" stroke-linejoin="round"/>
<circle cx="234.11" cy="332.31" r="1.75" fill="#f0f"/>
<circle cx="237.1" cy="332.12" r="1.75" fill="#f0f"/>
<circle cx="241" cy="331.87" r="1.75" fill="#f0f"/>
<circle cx="247.5" cy="331.45" r="1.75" fill="#f0f"/>
<circle cx="254" cy="331.02" r="1.75" fill="#f0f"/>
<circle cx="260.5" cy="330.6" r="1.75" fill="#f0f"/>
<circle cx="267" cy="330.17" r="1.75" fill="#f0f"/>
<circle cx="273.5" cy="329.73" r="1.75" fill="#f0f"/>
<circle cx="280" cy="329.28" r="1.75" fill="#f0f"/>
<circle cx="286.5" cy="328.82" r="1.75" fill="#f0f"/>
<circle cx="293" cy="328.34" r="1.75" fill="#f0f"/>
<circle cx="297.03" cy="327.98" r="1.75" fill="#f0f"/>
<circle cx="303.4" cy="327.24" r="1.75" fill="#f0f"/>
<circle cx="310.03" cy="326.33" r="1.75" fill="#f0f"/>
<circle cx="313.8" cy="325.81" r="1.75" fill="#f0f"/>
<circle cx="317.44" cy="325.2" r="1.75" fill="#f0f"/>
<circle cx="320.95" cy="324.29" r="1.75" fill="#f0f"/>
<circle cx="324.85" cy="322.99" r="1.75" fill="#f0f"/>
<circle cx="328.75" cy="321.51" r="1.75" fill="#f0f"/>
<circle cx="332.26" cy="319.82" r="1.75" fill="#f0f"/>
<circle cx="335.25" cy="317.84" r="1.75" fill="#f0f"/>
<circle cx="337.85" cy="315.62" r="1.75" fill="#f0f"/>
<circle cx="340.45" cy="312.96" r="1.75" fill="#f0f"/>
<circle cx="342.53" cy="309.98" r="1.75" fill="#f0f"/>
<circle cx="343.96" cy="306.77" r="1.75" fill="#f0f"/>
<circle cx="345.26" cy="302.61" r="1.75" fill="#f0f"/>
<circle cx="346.3" cy="298.02" r="1.75" fill="#f0f"/>
<circle cx="347.21" cy="292.37" r="1.75" fill="#f0f"/>
<circle cx="347.73" cy="287.53" r="1.75" fill="#f0f"/>
<circle cx="348.12" cy="283.09" r="1.75" fill="#f0f"/>
<circle cx="348.64" cy="278" r="1.75" fill="#f0f"/>
<circle cx="349.03" cy="270.95" r="1.75" fill="#f0f"/>
<circle cx="349.29" cy="249.7" r="1.75" fill="#f0f"/>
<circle cx="349.68" cy="242.38" r="1.75" fill="#f0f"/>
<circle cx="350.07" cy="236.69" r="1.75" fill="#f0f"/>
<circle cx="350.46" cy="224.11" r="1.75" fill="#f0f"/>
<circle cx="350.98" cy="215.56" r="1.75" fill="#f0f"/>
<circle cx="351.37" cy="210.24" r="1.75" fill="#f0f"/>
<rect x="402.8" y="195.3" width="142.9" height="152" fill="none" stroke="#1a1a1a" stroke-width="1.35"/>
<line x1="402.8" y1="347.3" x2="402.8" y2="350.3" stroke="#000" stroke-width="1.1"/>
<text x="405.1" y="358.7" font-size="6.4" text-anchor="middle" font-weight="bold" stroke="#000" stroke-width="0.28">0.00</text>
<line x1="424.9" y1="347.3" x2="424.9" y2="350.3" stroke="#000" stroke-width="1.1"/>
<text x="425.7" y="358.7" font-size="6.4" text-anchor="middle" font-weight="bold" stroke="#000" stroke-width="0.28">0.05</text>
<line x1="447" y1="347.3" x2="447" y2="350.3" stroke="#000" stroke-width="1.1"/>
<text x="448.6" y="358.7" font-size="6.4" text-anchor="middle" font-weight="bold" stroke="#000" stroke-width="0.28">0.10</text>
<line x1="469.1" y1="347.3" x2="469.1" y2="350.3" stroke="#000" stroke-width="1.1"/>
<text x="467" y="358.7" font-size="6.4" text-anchor="middle" font-weight="bold" stroke="#000" stroke-width="0.28">0.15</text>
<line x1="491.2" y1="347.3" x2="491.2" y2="350.3" stroke="#000" stroke-width="1.1"/>
<text x="492" y="358.7" font-size="6.4" text-anchor="middle" font-weight="bold" stroke="#000" stroke-width="0.28">0.20</text>
<line x1="513.3" y1="347.3" x2="513.3" y2="350.3" stroke="#000" stroke-width="1.1"/>
<text x="514.1" y="358.7" font-size="6.4" text-anchor="middle" font-weight="bold" stroke="#000" stroke-width="0.28">0.25</text>
<line x1="535.4" y1="347.3" x2="535.4" y2="350.3" stroke="#000" stroke-width="1.1"/>
<text x="536.2" y="358.7" font-size="6.4" text-anchor="middle" font-weight="bold" stroke="#000" stroke-width="0.28">0.30</text>
<line x1="413.85" y1="347.3" x2="413.85" y2="349" stroke="#000" stroke-width="1.1"/>
<line x1="435.95" y1="347.3" x2="435.95" y2="349" stroke="#000" stroke-width="1.1"/>
<line x1="458.05" y1="347.3" x2="458.05" y2="349" stroke="#000" stroke-width="1.1"/>
<line x1="480.15" y1="347.3" x2="480.15" y2="349" stroke="#000" stroke-width="1.1"/>
<line x1="502.25" y1="347.3" x2="502.25" y2="349" stroke="#000" stroke-width="1.1"/>
<line x1="524.35" y1="347.3" x2="524.35" y2="349" stroke="#000" stroke-width="1.1"/>
<line x1="546.45" y1="347.3" x2="546.45" y2="349" stroke="#000" stroke-width="1.1"/>
<line x1="399.8" y1="332.6" x2="402.8" y2="332.6" stroke="#000" stroke-width="1.1"/>
<text x="398" y="335.4" font-size="7.8" text-anchor="end" font-weight="bold" stroke="#000" stroke-width="0.28">0.0</text>
<line x1="399.8" y1="302.1" x2="402.8" y2="302.1" stroke="#000" stroke-width="1.1"/>
<text x="398" y="304.9" font-size="7.8" text-anchor="end" font-weight="bold" stroke="#000" stroke-width="0.28">0.2</text>
<line x1="399.8" y1="271.6" x2="402.8" y2="271.6" stroke="#000" stroke-width="1.1"/>
<text x="398" y="274.4" font-size="7.8" text-anchor="end" font-weight="bold" stroke="#000" stroke-width="0.28">0.4</text>
<line x1="399.8" y1="241.1" x2="402.8" y2="241.1" stroke="#000" stroke-width="1.1"/>
<text x="398" y="243.9" font-size="7.8" text-anchor="end" font-weight="bold" stroke="#000" stroke-width="0.28">0.6</text>
<line x1="399.8" y1="210.6" x2="402.8" y2="210.6" stroke="#000" stroke-width="1.1"/>
<text x="398" y="213.4" font-size="7.8" text-anchor="end" font-weight="bold" stroke="#000" stroke-width="0.28">0.8</text>
<line x1="401.1" y1="347.85" x2="402.8" y2="347.85" stroke="#000" stroke-width="1.1"/>
<line x1="401.1" y1="317.35" x2="402.8" y2="317.35" stroke="#000" stroke-width="1.1"/>
<line x1="401.1" y1="286.85" x2="402.8" y2="286.85" stroke="#000" stroke-width="1.1"/>
<line x1="401.1" y1="256.35" x2="402.8" y2="256.35" stroke="#000" stroke-width="1.1"/>
<line x1="401.1" y1="225.85" x2="402.8" y2="225.85" stroke="#000" stroke-width="1.1"/>
<line x1="401.1" y1="195.35" x2="402.8" y2="195.35" stroke="#000" stroke-width="1.1"/>
<text x="378.7" y="267.4" font-size="8.3" text-anchor="middle" font-weight="bold" transform="rotate(-90 378.7 267.4)" textLength="67" lengthAdjust="spacingAndGlyphs" stroke="#000" stroke-width="0.05">1/[Q(Po/P - 1)]</text>
<text x="472.9" y="372.6" font-size="9.5" text-anchor="middle" font-weight="bold" stroke="#000" stroke-width="0.28" textLength="110.6" lengthAdjust="spacingAndGlyphs">Relative Pressure (P/Po)</text>
<text x="517.5" y="248.7" font-size="9" text-anchor="middle" font-weight="bold" stroke="#000" stroke-width="0.28">(f)</text>
<polyline points="406.6,331.53 415.62,330.8 426.23,329.95 428.44,329.77 437.28,329.05 446.56,328.3 451.42,327.91 455.84,327.56 464.24,326.88 473.08,326.16 482.36,325.41 491.2,324.7 513.3,322.92 535.84,321.1" fill="none" stroke="#f00" stroke-width="1.3" stroke-linejoin="round"/>
<circle cx="406.6" cy="331.53" r="2.05" fill="#f00"/>
<circle cx="415.62" cy="330.8" r="2.05" fill="#f00"/>
<circle cx="426.23" cy="329.95" r="2.05" fill="#f00"/>
<circle cx="428.44" cy="329.77" r="2.05" fill="#f00"/>
<circle cx="437.28" cy="329.05" r="2.05" fill="#f00"/>
<circle cx="446.56" cy="328.3" r="2.05" fill="#f00"/>
<circle cx="451.42" cy="327.91" r="2.05" fill="#f00"/>
<circle cx="455.84" cy="327.56" r="2.05" fill="#f00"/>
<circle cx="464.24" cy="326.88" r="2.05" fill="#f00"/>
<circle cx="473.08" cy="326.16" r="2.05" fill="#f00"/>
<circle cx="482.36" cy="325.41" r="2.05" fill="#f00"/>
<circle cx="491.2" cy="324.7" r="2.05" fill="#f00"/>
<circle cx="513.3" cy="322.92" r="2.05" fill="#f00"/>
<circle cx="535.84" cy="321.1" r="2.05" fill="#f00"/>
<polyline points="423.57,326.5 429.32,324.98 438.16,322.99 442.58,321.62 451.42,319.18 460.26,316.74 469.1,314.3 477.94,311.86 491.2,308.2 500.04,305.76 513.3,302.1 522.14,299.66 535.4,295.54" fill="none" stroke="#00f" stroke-width="1.3" stroke-linejoin="round"/>
<polygon points="423.57,324.07 425.82,328.12 421.32,328.12" fill="#00f"/>
<polygon points="429.32,322.55 431.57,326.6 427.07,326.6" fill="#00f"/>
<polygon points="438.16,320.56 440.41,324.61 435.91,324.61" fill="#00f"/>
<polygon points="442.58,319.19 444.83,323.24 440.33,323.24" fill="#00f"/>
<polygon points="451.42,316.75 453.67,320.8 449.17,320.8" fill="#00f"/>
<polygon points="460.26,314.31 462.51,318.36 458.01,318.36" fill="#00f"/>
<polygon points="469.1,311.87 471.35,315.92 466.85,315.92" fill="#00f"/>
<polygon points="477.94,309.43 480.19,313.48 475.69,313.48" fill="#00f"/>
<polygon points="491.2,305.77 493.45,309.82 488.95,309.82" fill="#00f"/>
<polygon points="500.04,303.33 502.29,307.38 497.79,307.38" fill="#00f"/>
<polygon points="513.3,299.67 515.55,303.72 511.05,303.72" fill="#00f"/>
<polygon points="522.14,297.23 524.39,301.28 519.89,301.28" fill="#00f"/>
<polygon points="535.4,293.11 537.65,297.16 533.15,297.16" fill="#00f"/>
<polyline points="446.12,320.86 451.42,319.49 460.26,317.2 469.1,314.91 477.94,312.62 486.78,310.34 495.62,308.05 504.46,305.76 513.3,303.47 522.14,301.19 535.4,297.37" fill="none" stroke="#f0f" stroke-width="1.3" stroke-linejoin="round"/>
<polygon points="446.12,323.29 448.37,319.24 443.87,319.24" fill="#f0f"/>
<polygon points="451.42,321.92 453.67,317.87 449.17,317.87" fill="#f0f"/>
<polygon points="460.26,319.63 462.51,315.58 458.01,315.58" fill="#f0f"/>
<polygon points="469.1,317.34 471.35,313.29 466.85,313.29" fill="#f0f"/>
<polygon points="477.94,315.05 480.19,311 475.69,311" fill="#f0f"/>
<polygon points="486.78,312.77 489.03,308.72 484.53,308.72" fill="#f0f"/>
<polygon points="495.62,310.48 497.87,306.43 493.37,306.43" fill="#f0f"/>
<polygon points="504.46,308.19 506.71,304.14 502.21,304.14" fill="#f0f"/>
<polygon points="513.3,305.9 515.55,301.85 511.05,301.85" fill="#f0f"/>
<polygon points="522.14,303.62 524.39,299.56 519.89,299.56" fill="#f0f"/>
<polygon points="535.4,299.8 537.65,295.75 533.15,295.75" fill="#f0f"/>
<polyline points="426.67,319.64 434.89,315.22 443.02,311.4 451.42,308.5 460.26,304.69 468.22,301.34 477.5,297.22 486.34,293.87 494.29,289.75 502.69,285.33 512.42,282.28 523.91,275.56 535.84,269.92" fill="none" stroke="#008000" stroke-width="1.3" stroke-linejoin="round"/>
<polygon points="426.67,317.06 429.25,319.64 426.67,322.22 424.09,319.64" fill="#008000"/>
<polygon points="434.89,312.64 437.47,315.22 434.89,317.8 432.31,315.22" fill="#008000"/>
<polygon points="443.02,308.82 445.6,311.4 443.02,313.98 440.44,311.4" fill="#008000"/>
<polygon points="451.42,305.93 454,308.5 451.42,311.08 448.84,308.5" fill="#008000"/>
<polygon points="460.26,302.11 462.84,304.69 460.26,307.27 457.68,304.69" fill="#008000"/>
<polygon points="468.22,298.76 470.8,301.34 468.22,303.92 465.64,301.34" fill="#008000"/>
<polygon points="477.5,294.64 480.08,297.22 477.5,299.8 474.92,297.22" fill="#008000"/>
<polygon points="486.34,291.29 488.92,293.87 486.34,296.44 483.76,293.87" fill="#008000"/>
<polygon points="494.29,287.17 496.87,289.75 494.29,292.33 491.71,289.75" fill="#008000"/>
<polygon points="502.69,282.75 505.27,285.33 502.69,287.91 500.11,285.33" fill="#008000"/>
<polygon points="512.42,279.7 515,282.28 512.42,284.86 509.84,282.28" fill="#008000"/>
<polygon points="523.91,272.99 526.49,275.56 523.91,278.14 521.33,275.56" fill="#008000"/>
<polygon points="535.84,267.34 538.42,269.92 535.84,272.5 533.26,269.92" fill="#008000"/>
<polyline points="427.42,303.01 435.51,295.85 442.58,289.14 452.3,279.84 461.14,271.75 469.98,263.67 479.71,254.67 490.76,245.37 500.92,236.07 512.86,226 523.91,215.94 535.84,205.57" fill="none" stroke="#000" stroke-width="1.3" stroke-linejoin="round"/>
<rect x="425.47" y="301.06" width="3.9" height="3.9" fill="#000"/>
<rect x="433.56" y="293.9" width="3.9" height="3.9" fill="#000"/>
<rect x="440.63" y="287.19" width="3.9" height="3.9" fill="#000"/>
<rect x="450.35" y="277.89" width="3.9" height="3.9" fill="#000"/>
<rect x="459.19" y="269.8" width="3.9" height="3.9" fill="#000"/>
<rect x="468.03" y="261.72" width="3.9" height="3.9" fill="#000"/>
<rect x="477.76" y="252.72" width="3.9" height="3.9" fill="#000"/>
<rect x="488.81" y="243.42" width="3.9" height="3.9" fill="#000"/>
<rect x="498.97" y="234.12" width="3.9" height="3.9" fill="#000"/>
<rect x="510.91" y="224.05" width="3.9" height="3.9" fill="#000"/>
<rect x="521.96" y="213.99" width="3.9" height="3.9" fill="#000"/>
<rect x="533.89" y="203.62" width="3.9" height="3.9" fill="#000"/>
<line x1="402.8" y1="201.7" x2="422.4" y2="201.7" stroke="#000" stroke-width="1.6"/>
<rect x="411.8" y="200.1" width="3.2" height="3.2" fill="#000"/>
<text x="425.5" y="204.1" font-size="6.8" text-anchor="start" stroke="#000" stroke-width="0.3">CuO-NPs</text>
<line x1="402.8" y1="211.8" x2="422.4" y2="211.8" stroke="#f00" stroke-width="1.6"/>
<circle cx="413.4" cy="211.8" r="2" fill="#f00"/>
<text x="425.5" y="214.2" font-size="6.8" text-anchor="start" stroke="#000" stroke-width="0.3">TiO<tspan font-size="70%" dy="1.5">2</tspan><tspan dy="-1.5">-NPs</tspan></text>
<line x1="402.8" y1="226" x2="422.4" y2="226" stroke="#00f" stroke-width="1.6"/>
<polygon points="413.4,223.41 415.8,227.73 411,227.73" fill="#00f"/>
<text x="425.5" y="228.4" font-size="6.8" text-anchor="start" font-weight="bold" stroke="#000" stroke-width="0.28">CuO-TiO<tspan font-size="70%" dy="1.5">2</tspan><tspan dy="-1.5"> 30–70</tspan></text>
<line x1="402.8" y1="239.8" x2="422.4" y2="239.8" stroke="#f0f" stroke-width="1.6"/>
<polygon points="413.4,242.39 415.8,238.07 411,238.07" fill="#f0f"/>
<text x="425.5" y="242.2" font-size="6.8" text-anchor="start" font-weight="bold" stroke="#000" stroke-width="0.28">CuO-TiO<tspan font-size="70%" dy="1.5">2</tspan><tspan dy="-1.5"> 50–50</tspan></text>
<line x1="402.8" y1="253.1" x2="422.4" y2="253.1" stroke="#008000" stroke-width="1.6"/>
<polygon points="413.4,250.7 415.8,253.1 413.4,255.5 411,253.1" fill="#008000"/>
<text x="425.5" y="255.5" font-size="6.8" text-anchor="start" font-weight="bold" stroke="#000" stroke-width="0.28">CuO-TiO<tspan font-size="70%" dy="1.5">2</tspan><tspan dy="-1.5"> 70–30</tspan></text>
</svg>
</body></html>
